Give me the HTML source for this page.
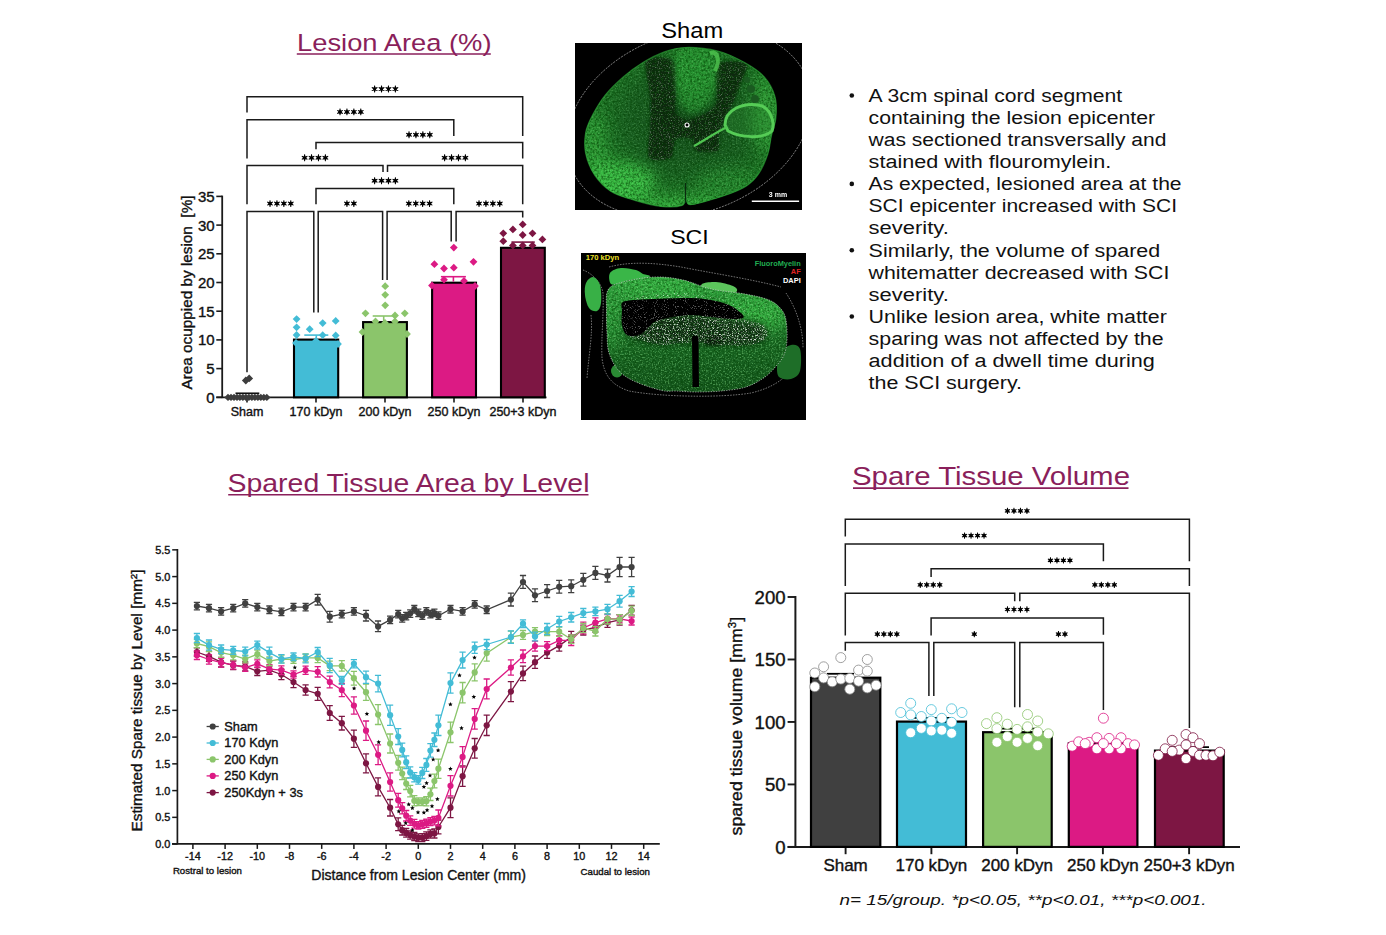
<!DOCTYPE html>
<html><head><meta charset="utf-8"><title>Spinal cord lesion analysis</title>
<style>
html,body{margin:0;padding:0;background:#fff;}
body{width:1386px;height:935px;overflow:hidden;}
svg{display:block;font-family:"Liberation Sans", sans-serif;}
text.c{stroke:#111;stroke-width:0.38px;}
</style></head><body>
<svg width="1386" height="935" viewBox="0 0 1386 935">
<rect width="1386" height="935" fill="#fff"/>
<text x="297.0" y="51.0" font-size="23.7" text-anchor="start" fill="#8a1f5b" font-weight="normal" font-style="normal" textLength="194.5" lengthAdjust="spacingAndGlyphs" >Lesion Area (%)</text>
<line x1="296.8" y1="54.0" x2="490.8" y2="54.0" stroke="#8a1f5b" stroke-width="1.6" />
<text x="227.5" y="491.5" font-size="26.4" text-anchor="start" fill="#8a1f5b" font-weight="normal" font-style="normal" textLength="362.0" lengthAdjust="spacingAndGlyphs" >Spared Tissue Area by Level</text>
<line x1="228.2" y1="494.7" x2="588.5" y2="494.7" stroke="#8a1f5b" stroke-width="1.6" />
<text x="852.0" y="485.2" font-size="26.4" text-anchor="start" fill="#8a1f5b" font-weight="normal" font-style="normal" textLength="278.0" lengthAdjust="spacingAndGlyphs" >Spare Tissue Volume</text>
<line x1="853.0" y1="488.1" x2="1128.5" y2="488.1" stroke="#8a1f5b" stroke-width="1.6" />
<text x="661.2" y="38" font-size="21.5" text-anchor="start" fill="#000" font-weight="normal" font-style="normal" textLength="62.0" lengthAdjust="spacingAndGlyphs" >Sham</text>
<text x="670.2" y="243.8" font-size="20.5" text-anchor="start" fill="#000" font-weight="normal" font-style="normal" textLength="38.5" lengthAdjust="spacingAndGlyphs" >SCI</text>
<circle cx="851.8" cy="95.5" r="2.3" fill="#111"/>
<text x="868.6" y="101.8" font-size="18.8" text-anchor="start" fill="#111" font-weight="normal" font-style="normal" textLength="253.6" lengthAdjust="spacingAndGlyphs" >A 3cm spinal cord segment</text>
<text x="868.6" y="123.9" font-size="18.8" text-anchor="start" fill="#111" font-weight="normal" font-style="normal" textLength="286.4" lengthAdjust="spacingAndGlyphs" >containing the lesion epicenter</text>
<text x="868.6" y="146.0" font-size="18.8" text-anchor="start" fill="#111" font-weight="normal" font-style="normal" textLength="297.8" lengthAdjust="spacingAndGlyphs" >was sectioned transversally and</text>
<text x="868.6" y="168.1" font-size="18.8" text-anchor="start" fill="#111" font-weight="normal" font-style="normal" textLength="242.6" lengthAdjust="spacingAndGlyphs" >stained with flouromylein.</text>
<circle cx="851.8" cy="183.9" r="2.3" fill="#111"/>
<text x="868.6" y="190.2" font-size="18.8" text-anchor="start" fill="#111" font-weight="normal" font-style="normal" textLength="313.0" lengthAdjust="spacingAndGlyphs" >As expected, lesioned area at the</text>
<text x="868.6" y="212.3" font-size="18.8" text-anchor="start" fill="#111" font-weight="normal" font-style="normal" textLength="308.4" lengthAdjust="spacingAndGlyphs" >SCI epicenter increased with SCI</text>
<text x="868.6" y="234.4" font-size="18.8" text-anchor="start" fill="#111" font-weight="normal" font-style="normal" textLength="80.2" lengthAdjust="spacingAndGlyphs" >severity.</text>
<circle cx="851.8" cy="250.2" r="2.3" fill="#111"/>
<text x="868.6" y="256.5" font-size="18.8" text-anchor="start" fill="#111" font-weight="normal" font-style="normal" textLength="291.6" lengthAdjust="spacingAndGlyphs" >Similarly, the volume of spared</text>
<text x="868.6" y="278.6" font-size="18.8" text-anchor="start" fill="#111" font-weight="normal" font-style="normal" textLength="300.8" lengthAdjust="spacingAndGlyphs" >whitematter decreased with SCI</text>
<text x="868.6" y="300.7" font-size="18.8" text-anchor="start" fill="#111" font-weight="normal" font-style="normal" textLength="80.2" lengthAdjust="spacingAndGlyphs" >severity.</text>
<circle cx="851.8" cy="316.5" r="2.3" fill="#111"/>
<text x="868.6" y="322.8" font-size="18.8" text-anchor="start" fill="#111" font-weight="normal" font-style="normal" textLength="298.2" lengthAdjust="spacingAndGlyphs" >Unlike lesion area, white matter</text>
<text x="868.6" y="344.9" font-size="18.8" text-anchor="start" fill="#111" font-weight="normal" font-style="normal" textLength="295.0" lengthAdjust="spacingAndGlyphs" >sparing was not affected by the</text>
<text x="868.6" y="367.0" font-size="18.8" text-anchor="start" fill="#111" font-weight="normal" font-style="normal" textLength="286.2" lengthAdjust="spacingAndGlyphs" >addition of a dwell time during</text>
<text x="868.6" y="389.1" font-size="18.8" text-anchor="start" fill="#111" font-weight="normal" font-style="normal" textLength="153.4" lengthAdjust="spacingAndGlyphs" >the SCI surgery.</text>
<line x1="216.3" y1="397.3" x2="222.2" y2="397.3" stroke="#1a1a1a" stroke-width="1.6" />
<text class="c" x="214.6" y="402.7" font-size="15" text-anchor="end" fill="#111" font-weight="normal" font-style="normal" >0</text>
<line x1="216.3" y1="368.6" x2="222.2" y2="368.6" stroke="#1a1a1a" stroke-width="1.6" />
<text class="c" x="214.6" y="374.0" font-size="15" text-anchor="end" fill="#111" font-weight="normal" font-style="normal" >5</text>
<line x1="216.3" y1="339.9" x2="222.2" y2="339.9" stroke="#1a1a1a" stroke-width="1.6" />
<text class="c" x="214.6" y="345.3" font-size="15" text-anchor="end" fill="#111" font-weight="normal" font-style="normal" >10</text>
<line x1="216.3" y1="311.2" x2="222.2" y2="311.2" stroke="#1a1a1a" stroke-width="1.6" />
<text class="c" x="214.6" y="316.6" font-size="15" text-anchor="end" fill="#111" font-weight="normal" font-style="normal" >15</text>
<line x1="216.3" y1="282.5" x2="222.2" y2="282.5" stroke="#1a1a1a" stroke-width="1.6" />
<text class="c" x="214.6" y="287.9" font-size="15" text-anchor="end" fill="#111" font-weight="normal" font-style="normal" >20</text>
<line x1="216.3" y1="253.8" x2="222.2" y2="253.8" stroke="#1a1a1a" stroke-width="1.6" />
<text class="c" x="214.6" y="259.2" font-size="15" text-anchor="end" fill="#111" font-weight="normal" font-style="normal" >25</text>
<line x1="216.3" y1="225.1" x2="222.2" y2="225.1" stroke="#1a1a1a" stroke-width="1.6" />
<text class="c" x="214.6" y="230.5" font-size="15" text-anchor="end" fill="#111" font-weight="normal" font-style="normal" >30</text>
<line x1="216.3" y1="196.4" x2="222.2" y2="196.4" stroke="#1a1a1a" stroke-width="1.6" />
<text class="c" x="214.6" y="201.8" font-size="15" text-anchor="end" fill="#111" font-weight="normal" font-style="normal" >35</text>
<line x1="222.2" y1="195.6" x2="222.2" y2="398.1" stroke="#1a1a1a" stroke-width="1.8" />
<line x1="216.3" y1="397.3" x2="546.5" y2="397.3" stroke="#1a1a1a" stroke-width="1.8" />
<line x1="247.0" y1="397.3" x2="247.0" y2="402.6" stroke="#1a1a1a" stroke-width="1.6" />
<text class="c" x="247.0" y="415.5" font-size="12.5" text-anchor="middle" fill="#111" font-weight="normal" font-style="normal" >Sham</text>
<line x1="316.0" y1="397.3" x2="316.0" y2="402.6" stroke="#1a1a1a" stroke-width="1.6" />
<text class="c" x="316.0" y="415.5" font-size="12.5" text-anchor="middle" fill="#111" font-weight="normal" font-style="normal" >170 kDyn</text>
<line x1="385.0" y1="397.3" x2="385.0" y2="402.6" stroke="#1a1a1a" stroke-width="1.6" />
<text class="c" x="385.0" y="415.5" font-size="12.5" text-anchor="middle" fill="#111" font-weight="normal" font-style="normal" >200 kDyn</text>
<line x1="454.0" y1="397.3" x2="454.0" y2="402.6" stroke="#1a1a1a" stroke-width="1.6" />
<text class="c" x="454.0" y="415.5" font-size="12.5" text-anchor="middle" fill="#111" font-weight="normal" font-style="normal" >250 kDyn</text>
<line x1="523.0" y1="397.3" x2="523.0" y2="402.6" stroke="#1a1a1a" stroke-width="1.6" />
<text class="c" x="523.0" y="415.5" font-size="12.5" text-anchor="middle" fill="#111" font-weight="normal" font-style="normal" >250+3 kDyn</text>
<text class="c" transform="translate(192.3,292.5) rotate(-90)" font-size="15.3" text-anchor="middle" fill="#111" textLength="194" lengthAdjust="spacingAndGlyphs">Area ocuppied by lesion&#160; [%]</text>
<rect x="294.0" y="339.6" width="44.2" height="57.7" fill="#43bcd6" stroke="#000" stroke-width="2.1"/>
<rect x="363.1" y="322.1" width="43.8" height="75.2" fill="#8bc56b" stroke="#000" stroke-width="2.1"/>
<rect x="432.1" y="282.7" width="43.9" height="114.6" fill="#dc1a84" stroke="#000" stroke-width="2.1"/>
<rect x="501.0" y="247.8" width="43.8" height="149.5" fill="#7d1643" stroke="#000" stroke-width="2.1"/>
<path d="M296.6,315.2 L300.5,319.1 L296.6,323.0 L292.7,319.1Z" fill="#43bcd6"/>
<path d="M296.6,323.4 L300.5,327.3 L296.6,331.2 L292.7,327.3Z" fill="#43bcd6"/>
<path d="M296.6,331.1 L300.5,335.0 L296.6,338.9 L292.7,335.0Z" fill="#43bcd6"/>
<path d="M309.7,325.3 L313.6,329.2 L309.7,333.1 L305.8,329.2Z" fill="#43bcd6"/>
<path d="M322.7,319.2 L326.6,323.1 L322.7,327.0 L318.8,323.1Z" fill="#43bcd6"/>
<path d="M322.7,331.3 L326.6,335.2 L322.7,339.1 L318.8,335.2Z" fill="#43bcd6"/>
<path d="M335.7,317.0 L339.6,320.9 L335.7,324.8 L331.8,320.9Z" fill="#43bcd6"/>
<path d="M335.7,331.6 L339.6,335.5 L335.7,339.4 L331.8,335.5Z" fill="#43bcd6"/>
<path d="M296.0,339.1 L299.9,343.0 L296.0,346.9 L292.1,343.0Z" fill="#43bcd6"/>
<path d="M338.0,340.1 L341.9,344.0 L338.0,347.9 L334.1,344.0Z" fill="#43bcd6"/>
<path d="M316.0,337.1 L319.9,341.0 L316.0,344.9 L312.1,341.0Z" fill="#43bcd6"/>
<path d="M385.2,282.3 L389.1,286.2 L385.2,290.1 L381.3,286.2Z" fill="#8bc56b"/>
<path d="M385.2,290.9 L389.1,294.8 L385.2,298.7 L381.3,294.8Z" fill="#8bc56b"/>
<path d="M385.2,301.4 L389.1,305.3 L385.2,309.2 L381.3,305.3Z" fill="#8bc56b"/>
<path d="M365.5,309.4 L369.4,313.3 L365.5,317.2 L361.6,313.3Z" fill="#8bc56b"/>
<path d="M404.8,309.4 L408.7,313.3 L404.8,317.2 L400.9,313.3Z" fill="#8bc56b"/>
<path d="M395.0,311.6 L398.9,315.5 L395.0,319.4 L391.1,315.5Z" fill="#8bc56b"/>
<path d="M375.5,317.6 L379.4,321.5 L375.5,325.4 L371.6,321.5Z" fill="#8bc56b"/>
<path d="M395.0,317.6 L398.9,321.5 L395.0,325.4 L391.1,321.5Z" fill="#8bc56b"/>
<path d="M362.5,328.1 L366.4,332.0 L362.5,335.9 L358.6,332.0Z" fill="#8bc56b"/>
<path d="M407.0,330.1 L410.9,334.0 L407.0,337.9 L403.1,334.0Z" fill="#8bc56b"/>
<path d="M385.0,319.1 L388.9,323.0 L385.0,326.9 L381.1,323.0Z" fill="#8bc56b"/>
<path d="M453.8,243.7 L457.7,247.6 L453.8,251.5 L449.9,247.6Z" fill="#dc1a84"/>
<path d="M434.4,260.3 L438.3,264.2 L434.4,268.1 L430.5,264.2Z" fill="#dc1a84"/>
<path d="M444.0,264.6 L447.9,268.5 L444.0,272.4 L440.1,268.5Z" fill="#dc1a84"/>
<path d="M453.8,263.8 L457.7,267.7 L453.8,271.6 L449.9,267.7Z" fill="#dc1a84"/>
<path d="M473.5,257.9 L477.4,261.8 L473.5,265.7 L469.6,261.8Z" fill="#dc1a84"/>
<path d="M444.0,275.8 L447.9,279.7 L444.0,283.6 L440.1,279.7Z" fill="#dc1a84"/>
<path d="M464.0,277.1 L467.9,281.0 L464.0,284.9 L460.1,281.0Z" fill="#dc1a84"/>
<path d="M432.0,281.6 L435.9,285.5 L432.0,289.4 L428.1,285.5Z" fill="#dc1a84"/>
<path d="M475.0,282.1 L478.9,286.0 L475.0,289.9 L471.1,286.0Z" fill="#dc1a84"/>
<path d="M522.7,220.5 L526.6,224.4 L522.7,228.3 L518.8,224.4Z" fill="#7d1643"/>
<path d="M512.9,225.5 L516.8,229.4 L512.9,233.3 L509.0,229.4Z" fill="#7d1643"/>
<path d="M503.3,229.4 L507.2,233.3 L503.3,237.2 L499.4,233.3Z" fill="#7d1643"/>
<path d="M522.7,231.1 L526.6,235.0 L522.7,238.9 L518.8,235.0Z" fill="#7d1643"/>
<path d="M532.5,229.4 L536.4,233.3 L532.5,237.2 L528.6,233.3Z" fill="#7d1643"/>
<path d="M542.4,235.5 L546.3,239.4 L542.4,243.3 L538.5,239.4Z" fill="#7d1643"/>
<path d="M503.3,237.3 L507.2,241.2 L503.3,245.1 L499.4,241.2Z" fill="#7d1643"/>
<path d="M512.9,241.6 L516.8,245.5 L512.9,249.4 L509.0,245.5Z" fill="#7d1643"/>
<path d="M522.7,241.6 L526.6,245.5 L522.7,249.4 L518.8,245.5Z" fill="#7d1643"/>
<path d="M532.5,241.6 L536.4,245.5 L532.5,249.4 L528.6,245.5Z" fill="#7d1643"/>
<line x1="304.3" y1="335.1" x2="328.3" y2="335.1" stroke="#43bcd6" stroke-width="1.6" />
<line x1="316.3" y1="335.1" x2="316.3" y2="338.6" stroke="#43bcd6" stroke-width="1.6" />
<line x1="372.7" y1="316.0" x2="394.7" y2="316.0" stroke="#8bc56b" stroke-width="1.6" />
<line x1="383.7" y1="316.0" x2="383.7" y2="321.1" stroke="#8bc56b" stroke-width="1.6" />
<line x1="440.9" y1="276.7" x2="465.9" y2="276.7" stroke="#dc1a84" stroke-width="1.6" />
<line x1="453.4" y1="276.7" x2="453.4" y2="281.7" stroke="#dc1a84" stroke-width="1.6" />
<line x1="511.4" y1="242.1" x2="534.8" y2="242.1" stroke="#7d1643" stroke-width="1.6" />
<line x1="523.0999999999999" y1="242.1" x2="523.0999999999999" y2="246.8" stroke="#7d1643" stroke-width="1.6" />
<path d="M228.0,393.7 L231.7,397.4 L228.0,401.1 L224.3,397.4Z" fill="#3d3d3d"/>
<path d="M231.0,393.7 L234.7,397.4 L231.0,401.1 L227.3,397.4Z" fill="#3d3d3d"/>
<path d="M234.0,393.7 L237.7,397.4 L234.0,401.1 L230.3,397.4Z" fill="#3d3d3d"/>
<path d="M237.0,393.7 L240.7,397.4 L237.0,401.1 L233.3,397.4Z" fill="#3d3d3d"/>
<path d="M239.9,393.7 L243.6,397.4 L239.9,401.1 L236.2,397.4Z" fill="#3d3d3d"/>
<path d="M242.9,393.7 L246.6,397.4 L242.9,401.1 L239.2,397.4Z" fill="#3d3d3d"/>
<path d="M245.9,393.7 L249.6,397.4 L245.9,401.1 L242.2,397.4Z" fill="#3d3d3d"/>
<path d="M248.9,393.7 L252.6,397.4 L248.9,401.1 L245.2,397.4Z" fill="#3d3d3d"/>
<path d="M251.9,393.7 L255.6,397.4 L251.9,401.1 L248.2,397.4Z" fill="#3d3d3d"/>
<path d="M254.9,393.7 L258.6,397.4 L254.9,401.1 L251.2,397.4Z" fill="#3d3d3d"/>
<path d="M257.9,393.7 L261.6,397.4 L257.9,401.1 L254.2,397.4Z" fill="#3d3d3d"/>
<path d="M260.8,393.7 L264.5,397.4 L260.8,401.1 L257.1,397.4Z" fill="#3d3d3d"/>
<path d="M263.8,393.7 L267.5,397.4 L263.8,401.1 L260.1,397.4Z" fill="#3d3d3d"/>
<path d="M266.8,393.7 L270.5,397.4 L266.8,401.1 L263.1,397.4Z" fill="#3d3d3d"/>
<path d="M245.8,376.6 L249.7,380.5 L245.8,384.4 L241.9,380.5Z" fill="#3d3d3d"/>
<path d="M249.2,374.5 L253.1,378.4 L249.2,382.3 L245.3,378.4Z" fill="#3d3d3d"/>
<line x1="235.5" y1="393.3" x2="259.3" y2="393.3" stroke="#111" stroke-width="1.7" />
<path d="M247.0,112.6 V96.8 H522.7 V136.1" stroke="#1a1a1a" stroke-width="1.5" fill="none" stroke-linejoin="miter" stroke-linecap="butt"/>
<path d="M375.63,89.00L375.03,85.55L374.21,85.55L373.61,89.00ZM373.61,89.00L374.21,92.45L375.03,92.45L375.63,89.00ZM375.13,89.88L377.66,87.72L377.25,87.00L374.11,88.12ZM375.13,88.12L371.99,87.00L371.58,87.72L374.11,89.88ZM374.11,88.12L371.58,90.28L371.99,91.00L375.13,89.88ZM374.11,89.88L377.25,91.00L377.66,90.28L375.13,88.12ZM382.55,89.00L381.95,85.55L381.13,85.55L380.53,89.00ZM380.53,89.00L381.13,92.45L381.95,92.45L382.55,89.00ZM382.05,89.88L384.58,87.72L384.17,87.00L381.03,88.12ZM382.05,88.12L378.91,87.00L378.50,87.72L381.03,89.88ZM381.03,88.12L378.50,90.28L378.91,91.00L382.05,89.88ZM381.03,89.88L384.17,91.00L384.58,90.28L382.05,88.12ZM389.47,89.00L388.87,85.55L388.05,85.55L387.45,89.00ZM387.45,89.00L388.05,92.45L388.87,92.45L389.47,89.00ZM388.97,89.88L391.50,87.72L391.09,87.00L387.95,88.12ZM388.97,88.12L385.83,87.00L385.42,87.72L387.95,89.88ZM387.95,88.12L385.42,90.28L385.83,91.00L388.97,89.88ZM387.95,89.88L391.09,91.00L391.50,90.28L388.97,88.12ZM396.39,89.00L395.79,85.55L394.97,85.55L394.37,89.00ZM394.37,89.00L394.97,92.45L395.79,92.45L396.39,89.00ZM395.89,89.88L398.42,87.72L398.01,87.00L394.87,88.12ZM395.89,88.12L392.75,87.00L392.34,87.72L394.87,89.88ZM394.87,88.12L392.34,90.28L392.75,91.00L395.89,89.88ZM394.87,89.88L398.01,91.00L398.42,90.28L395.89,88.12Z" fill="#000"/>
<g fill="#000"><circle cx="374.62" cy="89.00" r="1.58"/><circle cx="381.54" cy="89.00" r="1.58"/><circle cx="388.46" cy="89.00" r="1.58"/><circle cx="395.38" cy="89.00" r="1.58"/></g>
<path d="M247.0,158.6 V119.7 H453.8 V136.1" stroke="#1a1a1a" stroke-width="1.5" fill="none" stroke-linejoin="miter" stroke-linecap="butt"/>
<path d="M341.03,111.90L340.43,108.45L339.61,108.45L339.01,111.90ZM339.01,111.90L339.61,115.35L340.43,115.35L341.03,111.90ZM340.53,112.78L343.06,110.62L342.65,109.90L339.51,111.02ZM340.53,111.02L337.39,109.90L336.98,110.62L339.51,112.78ZM339.51,111.02L336.98,113.18L337.39,113.90L340.53,112.78ZM339.51,112.78L342.65,113.90L343.06,113.18L340.53,111.02ZM347.95,111.90L347.35,108.45L346.53,108.45L345.93,111.90ZM345.93,111.90L346.53,115.35L347.35,115.35L347.95,111.90ZM347.45,112.78L349.98,110.62L349.57,109.90L346.43,111.02ZM347.45,111.02L344.31,109.90L343.90,110.62L346.43,112.78ZM346.43,111.02L343.90,113.18L344.31,113.90L347.45,112.78ZM346.43,112.78L349.57,113.90L349.98,113.18L347.45,111.02ZM354.87,111.90L354.27,108.45L353.45,108.45L352.85,111.90ZM352.85,111.90L353.45,115.35L354.27,115.35L354.87,111.90ZM354.37,112.78L356.90,110.62L356.49,109.90L353.35,111.02ZM354.37,111.02L351.23,109.90L350.82,110.62L353.35,112.78ZM353.35,111.02L350.82,113.18L351.23,113.90L354.37,112.78ZM353.35,112.78L356.49,113.90L356.90,113.18L354.37,111.02ZM361.79,111.90L361.19,108.45L360.37,108.45L359.77,111.90ZM359.77,111.90L360.37,115.35L361.19,115.35L361.79,111.90ZM361.29,112.78L363.82,110.62L363.41,109.90L360.27,111.02ZM361.29,111.02L358.15,109.90L357.74,110.62L360.27,112.78ZM360.27,111.02L357.74,113.18L358.15,113.90L361.29,112.78ZM360.27,112.78L363.41,113.90L363.82,113.18L361.29,111.02Z" fill="#000"/>
<g fill="#000"><circle cx="340.02" cy="111.90" r="1.58"/><circle cx="346.94" cy="111.90" r="1.58"/><circle cx="353.86" cy="111.90" r="1.58"/><circle cx="360.78" cy="111.90" r="1.58"/></g>
<path d="M316.0,149.2 V142.6 H522.7 V158.6" stroke="#1a1a1a" stroke-width="1.5" fill="none" stroke-linejoin="miter" stroke-linecap="butt"/>
<path d="M410.03,134.80L409.43,131.35L408.61,131.35L408.01,134.80ZM408.01,134.80L408.61,138.25L409.43,138.25L410.03,134.80ZM409.53,135.68L412.06,133.52L411.65,132.80L408.51,133.92ZM409.53,133.92L406.39,132.80L405.98,133.52L408.51,135.68ZM408.51,133.92L405.98,136.08L406.39,136.80L409.53,135.68ZM408.51,135.68L411.65,136.80L412.06,136.08L409.53,133.92ZM416.95,134.80L416.35,131.35L415.53,131.35L414.93,134.80ZM414.93,134.80L415.53,138.25L416.35,138.25L416.95,134.80ZM416.45,135.68L418.98,133.52L418.57,132.80L415.43,133.92ZM416.45,133.92L413.31,132.80L412.90,133.52L415.43,135.68ZM415.43,133.92L412.90,136.08L413.31,136.80L416.45,135.68ZM415.43,135.68L418.57,136.80L418.98,136.08L416.45,133.92ZM423.87,134.80L423.27,131.35L422.45,131.35L421.85,134.80ZM421.85,134.80L422.45,138.25L423.27,138.25L423.87,134.80ZM423.37,135.68L425.90,133.52L425.49,132.80L422.35,133.92ZM423.37,133.92L420.23,132.80L419.82,133.52L422.35,135.68ZM422.35,133.92L419.82,136.08L420.23,136.80L423.37,135.68ZM422.35,135.68L425.49,136.80L425.90,136.08L423.37,133.92ZM430.79,134.80L430.19,131.35L429.37,131.35L428.77,134.80ZM428.77,134.80L429.37,138.25L430.19,138.25L430.79,134.80ZM430.29,135.68L432.82,133.52L432.41,132.80L429.27,133.92ZM430.29,133.92L427.15,132.80L426.74,133.52L429.27,135.68ZM429.27,133.92L426.74,136.08L427.15,136.80L430.29,135.68ZM429.27,135.68L432.41,136.80L432.82,136.08L430.29,133.92Z" fill="#000"/>
<g fill="#000"><circle cx="409.02" cy="134.80" r="1.58"/><circle cx="415.94" cy="134.80" r="1.58"/><circle cx="422.86" cy="134.80" r="1.58"/><circle cx="429.78" cy="134.80" r="1.58"/></g>
<path d="M247.0,204.3 V165.6 H383.0 V172.0" stroke="#1a1a1a" stroke-width="1.5" fill="none" stroke-linejoin="miter" stroke-linecap="butt"/>
<path d="M305.63,157.80L305.03,154.35L304.21,154.35L303.61,157.80ZM303.61,157.80L304.21,161.25L305.03,161.25L305.63,157.80ZM305.13,158.68L307.66,156.52L307.25,155.80L304.11,156.92ZM305.13,156.92L301.99,155.80L301.58,156.52L304.11,158.68ZM304.11,156.92L301.58,159.08L301.99,159.80L305.13,158.68ZM304.11,158.68L307.25,159.80L307.66,159.08L305.13,156.92ZM312.55,157.80L311.95,154.35L311.13,154.35L310.53,157.80ZM310.53,157.80L311.13,161.25L311.95,161.25L312.55,157.80ZM312.05,158.68L314.58,156.52L314.17,155.80L311.03,156.92ZM312.05,156.92L308.91,155.80L308.50,156.52L311.03,158.68ZM311.03,156.92L308.50,159.08L308.91,159.80L312.05,158.68ZM311.03,158.68L314.17,159.80L314.58,159.08L312.05,156.92ZM319.47,157.80L318.87,154.35L318.05,154.35L317.45,157.80ZM317.45,157.80L318.05,161.25L318.87,161.25L319.47,157.80ZM318.97,158.68L321.50,156.52L321.09,155.80L317.95,156.92ZM318.97,156.92L315.83,155.80L315.42,156.52L317.95,158.68ZM317.95,156.92L315.42,159.08L315.83,159.80L318.97,158.68ZM317.95,158.68L321.09,159.80L321.50,159.08L318.97,156.92ZM326.39,157.80L325.79,154.35L324.97,154.35L324.37,157.80ZM324.37,157.80L324.97,161.25L325.79,161.25L326.39,157.80ZM325.89,158.68L328.42,156.52L328.01,155.80L324.87,156.92ZM325.89,156.92L322.75,155.80L322.34,156.52L324.87,158.68ZM324.87,156.92L322.34,159.08L322.75,159.80L325.89,158.68ZM324.87,158.68L328.01,159.80L328.42,159.08L325.89,156.92Z" fill="#000"/>
<g fill="#000"><circle cx="304.62" cy="157.80" r="1.58"/><circle cx="311.54" cy="157.80" r="1.58"/><circle cx="318.46" cy="157.80" r="1.58"/><circle cx="325.38" cy="157.80" r="1.58"/></g>
<path d="M387.5,172.0 V165.6 H522.7 V204.3" stroke="#1a1a1a" stroke-width="1.5" fill="none" stroke-linejoin="miter" stroke-linecap="butt"/>
<path d="M445.63,157.80L445.03,154.35L444.21,154.35L443.61,157.80ZM443.61,157.80L444.21,161.25L445.03,161.25L445.63,157.80ZM445.13,158.68L447.66,156.52L447.25,155.80L444.11,156.92ZM445.13,156.92L441.99,155.80L441.58,156.52L444.11,158.68ZM444.11,156.92L441.58,159.08L441.99,159.80L445.13,158.68ZM444.11,158.68L447.25,159.80L447.66,159.08L445.13,156.92ZM452.55,157.80L451.95,154.35L451.13,154.35L450.53,157.80ZM450.53,157.80L451.13,161.25L451.95,161.25L452.55,157.80ZM452.05,158.68L454.58,156.52L454.17,155.80L451.03,156.92ZM452.05,156.92L448.91,155.80L448.50,156.52L451.03,158.68ZM451.03,156.92L448.50,159.08L448.91,159.80L452.05,158.68ZM451.03,158.68L454.17,159.80L454.58,159.08L452.05,156.92ZM459.47,157.80L458.87,154.35L458.05,154.35L457.45,157.80ZM457.45,157.80L458.05,161.25L458.87,161.25L459.47,157.80ZM458.97,158.68L461.50,156.52L461.09,155.80L457.95,156.92ZM458.97,156.92L455.83,155.80L455.42,156.52L457.95,158.68ZM457.95,156.92L455.42,159.08L455.83,159.80L458.97,158.68ZM457.95,158.68L461.09,159.80L461.50,159.08L458.97,156.92ZM466.39,157.80L465.79,154.35L464.97,154.35L464.37,157.80ZM464.37,157.80L464.97,161.25L465.79,161.25L466.39,157.80ZM465.89,158.68L468.42,156.52L468.01,155.80L464.87,156.92ZM465.89,156.92L462.75,155.80L462.34,156.52L464.87,158.68ZM464.87,156.92L462.34,159.08L462.75,159.80L465.89,158.68ZM464.87,158.68L468.01,159.80L468.42,159.08L465.89,156.92Z" fill="#000"/>
<g fill="#000"><circle cx="444.62" cy="157.80" r="1.58"/><circle cx="451.54" cy="157.80" r="1.58"/><circle cx="458.46" cy="157.80" r="1.58"/><circle cx="465.38" cy="157.80" r="1.58"/></g>
<path d="M316.0,204.3 V188.5 H453.8 V204.3" stroke="#1a1a1a" stroke-width="1.5" fill="none" stroke-linejoin="miter" stroke-linecap="butt"/>
<path d="M375.63,180.70L375.03,177.25L374.21,177.25L373.61,180.70ZM373.61,180.70L374.21,184.15L375.03,184.15L375.63,180.70ZM375.13,181.58L377.66,179.42L377.25,178.70L374.11,179.82ZM375.13,179.82L371.99,178.70L371.58,179.42L374.11,181.58ZM374.11,179.82L371.58,181.98L371.99,182.70L375.13,181.58ZM374.11,181.58L377.25,182.70L377.66,181.98L375.13,179.82ZM382.55,180.70L381.95,177.25L381.13,177.25L380.53,180.70ZM380.53,180.70L381.13,184.15L381.95,184.15L382.55,180.70ZM382.05,181.58L384.58,179.42L384.17,178.70L381.03,179.82ZM382.05,179.82L378.91,178.70L378.50,179.42L381.03,181.58ZM381.03,179.82L378.50,181.98L378.91,182.70L382.05,181.58ZM381.03,181.58L384.17,182.70L384.58,181.98L382.05,179.82ZM389.47,180.70L388.87,177.25L388.05,177.25L387.45,180.70ZM387.45,180.70L388.05,184.15L388.87,184.15L389.47,180.70ZM388.97,181.58L391.50,179.42L391.09,178.70L387.95,179.82ZM388.97,179.82L385.83,178.70L385.42,179.42L387.95,181.58ZM387.95,179.82L385.42,181.98L385.83,182.70L388.97,181.58ZM387.95,181.58L391.09,182.70L391.50,181.98L388.97,179.82ZM396.39,180.70L395.79,177.25L394.97,177.25L394.37,180.70ZM394.37,180.70L394.97,184.15L395.79,184.15L396.39,180.70ZM395.89,181.58L398.42,179.42L398.01,178.70L394.87,179.82ZM395.89,179.82L392.75,178.70L392.34,179.42L394.87,181.58ZM394.87,179.82L392.34,181.98L392.75,182.70L395.89,181.58ZM394.87,181.58L398.01,182.70L398.42,181.98L395.89,179.82Z" fill="#000"/>
<g fill="#000"><circle cx="374.62" cy="180.70" r="1.58"/><circle cx="381.54" cy="180.70" r="1.58"/><circle cx="388.46" cy="180.70" r="1.58"/><circle cx="395.38" cy="180.70" r="1.58"/></g>
<path d="M247.0,372.2 V211.4 H313.8 V312.5" stroke="#1a1a1a" stroke-width="1.5" fill="none" stroke-linejoin="miter" stroke-linecap="butt"/>
<path d="M271.03,203.60L270.43,200.15L269.61,200.15L269.01,203.60ZM269.01,203.60L269.61,207.05L270.43,207.05L271.03,203.60ZM270.53,204.48L273.06,202.32L272.65,201.60L269.51,202.72ZM270.53,202.72L267.39,201.60L266.98,202.32L269.51,204.48ZM269.51,202.72L266.98,204.88L267.39,205.60L270.53,204.48ZM269.51,204.48L272.65,205.60L273.06,204.88L270.53,202.72ZM277.95,203.60L277.35,200.15L276.53,200.15L275.93,203.60ZM275.93,203.60L276.53,207.05L277.35,207.05L277.95,203.60ZM277.45,204.48L279.98,202.32L279.57,201.60L276.43,202.72ZM277.45,202.72L274.31,201.60L273.90,202.32L276.43,204.48ZM276.43,202.72L273.90,204.88L274.31,205.60L277.45,204.48ZM276.43,204.48L279.57,205.60L279.98,204.88L277.45,202.72ZM284.87,203.60L284.27,200.15L283.45,200.15L282.85,203.60ZM282.85,203.60L283.45,207.05L284.27,207.05L284.87,203.60ZM284.37,204.48L286.90,202.32L286.49,201.60L283.35,202.72ZM284.37,202.72L281.23,201.60L280.82,202.32L283.35,204.48ZM283.35,202.72L280.82,204.88L281.23,205.60L284.37,204.48ZM283.35,204.48L286.49,205.60L286.90,204.88L284.37,202.72ZM291.79,203.60L291.19,200.15L290.37,200.15L289.77,203.60ZM289.77,203.60L290.37,207.05L291.19,207.05L291.79,203.60ZM291.29,204.48L293.82,202.32L293.41,201.60L290.27,202.72ZM291.29,202.72L288.15,201.60L287.74,202.32L290.27,204.48ZM290.27,202.72L287.74,204.88L288.15,205.60L291.29,204.48ZM290.27,204.48L293.41,205.60L293.82,204.88L291.29,202.72Z" fill="#000"/>
<g fill="#000"><circle cx="270.02" cy="203.60" r="1.58"/><circle cx="276.94" cy="203.60" r="1.58"/><circle cx="283.86" cy="203.60" r="1.58"/><circle cx="290.78" cy="203.60" r="1.58"/></g>
<path d="M318.2,312.5 V211.4 H382.6 V280.0" stroke="#1a1a1a" stroke-width="1.5" fill="none" stroke-linejoin="miter" stroke-linecap="butt"/>
<path d="M347.95,203.60L347.35,200.15L346.53,200.15L345.93,203.60ZM345.93,203.60L346.53,207.05L347.35,207.05L347.95,203.60ZM347.45,204.48L349.98,202.32L349.57,201.60L346.43,202.72ZM347.45,202.72L344.31,201.60L343.90,202.32L346.43,204.48ZM346.43,202.72L343.90,204.88L344.31,205.60L347.45,204.48ZM346.43,204.48L349.57,205.60L349.98,204.88L347.45,202.72ZM354.87,203.60L354.27,200.15L353.45,200.15L352.85,203.60ZM352.85,203.60L353.45,207.05L354.27,207.05L354.87,203.60ZM354.37,204.48L356.90,202.32L356.49,201.60L353.35,202.72ZM354.37,202.72L351.23,201.60L350.82,202.32L353.35,204.48ZM353.35,202.72L350.82,204.88L351.23,205.60L354.37,204.48ZM353.35,204.48L356.49,205.60L356.90,204.88L354.37,202.72Z" fill="#000"/>
<g fill="#000"><circle cx="346.94" cy="203.60" r="1.58"/><circle cx="353.86" cy="203.60" r="1.58"/></g>
<path d="M387.1,280.0 V211.4 H451.2 V241.5" stroke="#1a1a1a" stroke-width="1.5" fill="none" stroke-linejoin="miter" stroke-linecap="butt"/>
<path d="M409.83,203.60L409.23,200.15L408.41,200.15L407.81,203.60ZM407.81,203.60L408.41,207.05L409.23,207.05L409.83,203.60ZM409.33,204.48L411.86,202.32L411.45,201.60L408.31,202.72ZM409.33,202.72L406.19,201.60L405.78,202.32L408.31,204.48ZM408.31,202.72L405.78,204.88L406.19,205.60L409.33,204.48ZM408.31,204.48L411.45,205.60L411.86,204.88L409.33,202.72ZM416.75,203.60L416.15,200.15L415.33,200.15L414.73,203.60ZM414.73,203.60L415.33,207.05L416.15,207.05L416.75,203.60ZM416.25,204.48L418.78,202.32L418.37,201.60L415.23,202.72ZM416.25,202.72L413.11,201.60L412.70,202.32L415.23,204.48ZM415.23,202.72L412.70,204.88L413.11,205.60L416.25,204.48ZM415.23,204.48L418.37,205.60L418.78,204.88L416.25,202.72ZM423.67,203.60L423.07,200.15L422.25,200.15L421.65,203.60ZM421.65,203.60L422.25,207.05L423.07,207.05L423.67,203.60ZM423.17,204.48L425.70,202.32L425.29,201.60L422.15,202.72ZM423.17,202.72L420.03,201.60L419.62,202.32L422.15,204.48ZM422.15,202.72L419.62,204.88L420.03,205.60L423.17,204.48ZM422.15,204.48L425.29,205.60L425.70,204.88L423.17,202.72ZM430.59,203.60L429.99,200.15L429.17,200.15L428.57,203.60ZM428.57,203.60L429.17,207.05L429.99,207.05L430.59,203.60ZM430.09,204.48L432.62,202.32L432.21,201.60L429.07,202.72ZM430.09,202.72L426.95,201.60L426.54,202.32L429.07,204.48ZM429.07,202.72L426.54,204.88L426.95,205.60L430.09,204.48ZM429.07,204.48L432.21,205.60L432.62,204.88L430.09,202.72Z" fill="#000"/>
<g fill="#000"><circle cx="408.82" cy="203.60" r="1.58"/><circle cx="415.74" cy="203.60" r="1.58"/><circle cx="422.66" cy="203.60" r="1.58"/><circle cx="429.58" cy="203.60" r="1.58"/></g>
<path d="M456.1,241.5 V211.4 H522.7 V217.6" stroke="#1a1a1a" stroke-width="1.5" fill="none" stroke-linejoin="miter" stroke-linecap="butt"/>
<path d="M480.03,203.60L479.43,200.15L478.61,200.15L478.01,203.60ZM478.01,203.60L478.61,207.05L479.43,207.05L480.03,203.60ZM479.53,204.48L482.06,202.32L481.65,201.60L478.51,202.72ZM479.53,202.72L476.39,201.60L475.98,202.32L478.51,204.48ZM478.51,202.72L475.98,204.88L476.39,205.60L479.53,204.48ZM478.51,204.48L481.65,205.60L482.06,204.88L479.53,202.72ZM486.95,203.60L486.35,200.15L485.53,200.15L484.93,203.60ZM484.93,203.60L485.53,207.05L486.35,207.05L486.95,203.60ZM486.45,204.48L488.98,202.32L488.57,201.60L485.43,202.72ZM486.45,202.72L483.31,201.60L482.90,202.32L485.43,204.48ZM485.43,202.72L482.90,204.88L483.31,205.60L486.45,204.48ZM485.43,204.48L488.57,205.60L488.98,204.88L486.45,202.72ZM493.87,203.60L493.27,200.15L492.45,200.15L491.85,203.60ZM491.85,203.60L492.45,207.05L493.27,207.05L493.87,203.60ZM493.37,204.48L495.90,202.32L495.49,201.60L492.35,202.72ZM493.37,202.72L490.23,201.60L489.82,202.32L492.35,204.48ZM492.35,202.72L489.82,204.88L490.23,205.60L493.37,204.48ZM492.35,204.48L495.49,205.60L495.90,204.88L493.37,202.72ZM500.79,203.60L500.19,200.15L499.37,200.15L498.77,203.60ZM498.77,203.60L499.37,207.05L500.19,207.05L500.79,203.60ZM500.29,204.48L502.82,202.32L502.41,201.60L499.27,202.72ZM500.29,202.72L497.15,201.60L496.74,202.32L499.27,204.48ZM499.27,202.72L496.74,204.88L497.15,205.60L500.29,204.48ZM499.27,204.48L502.41,205.60L502.82,204.88L500.29,202.72Z" fill="#000"/>
<g fill="#000"><circle cx="479.02" cy="203.60" r="1.58"/><circle cx="485.94" cy="203.60" r="1.58"/><circle cx="492.86" cy="203.60" r="1.58"/><circle cx="499.78" cy="203.60" r="1.58"/></g>
<line x1="177.4" y1="549.0" x2="177.4" y2="844.3" stroke="#1a1a1a" stroke-width="1.7" />
<line x1="172.0" y1="843.8" x2="659.8" y2="843.8" stroke="#1a1a1a" stroke-width="1.7" />
<line x1="172.2" y1="844.1" x2="177.4" y2="844.1" stroke="#1a1a1a" stroke-width="1.5" />
<text class="c" x="170.3" y="848.0" font-size="10.9" text-anchor="end" fill="#111" font-weight="normal" font-style="normal" >0.0</text>
<line x1="172.2" y1="817.35" x2="177.4" y2="817.35" stroke="#1a1a1a" stroke-width="1.5" />
<text class="c" x="170.3" y="821.2" font-size="10.9" text-anchor="end" fill="#111" font-weight="normal" font-style="normal" >0.5</text>
<line x1="172.2" y1="790.6" x2="177.4" y2="790.6" stroke="#1a1a1a" stroke-width="1.5" />
<text class="c" x="170.3" y="794.5" font-size="10.9" text-anchor="end" fill="#111" font-weight="normal" font-style="normal" >1.0</text>
<line x1="172.2" y1="763.85" x2="177.4" y2="763.85" stroke="#1a1a1a" stroke-width="1.5" />
<text class="c" x="170.3" y="767.8" font-size="10.9" text-anchor="end" fill="#111" font-weight="normal" font-style="normal" >1.5</text>
<line x1="172.2" y1="737.1" x2="177.4" y2="737.1" stroke="#1a1a1a" stroke-width="1.5" />
<text class="c" x="170.3" y="741.0" font-size="10.9" text-anchor="end" fill="#111" font-weight="normal" font-style="normal" >2.0</text>
<line x1="172.2" y1="710.35" x2="177.4" y2="710.35" stroke="#1a1a1a" stroke-width="1.5" />
<text class="c" x="170.3" y="714.2" font-size="10.9" text-anchor="end" fill="#111" font-weight="normal" font-style="normal" >2.5</text>
<line x1="172.2" y1="683.6" x2="177.4" y2="683.6" stroke="#1a1a1a" stroke-width="1.5" />
<text class="c" x="170.3" y="687.5" font-size="10.9" text-anchor="end" fill="#111" font-weight="normal" font-style="normal" >3.0</text>
<line x1="172.2" y1="656.85" x2="177.4" y2="656.85" stroke="#1a1a1a" stroke-width="1.5" />
<text class="c" x="170.3" y="660.8" font-size="10.9" text-anchor="end" fill="#111" font-weight="normal" font-style="normal" >3.5</text>
<line x1="172.2" y1="630.1" x2="177.4" y2="630.1" stroke="#1a1a1a" stroke-width="1.5" />
<text class="c" x="170.3" y="634.0" font-size="10.9" text-anchor="end" fill="#111" font-weight="normal" font-style="normal" >4.0</text>
<line x1="172.2" y1="603.35" x2="177.4" y2="603.35" stroke="#1a1a1a" stroke-width="1.5" />
<text class="c" x="170.3" y="607.2" font-size="10.9" text-anchor="end" fill="#111" font-weight="normal" font-style="normal" >4.5</text>
<line x1="172.2" y1="576.6" x2="177.4" y2="576.6" stroke="#1a1a1a" stroke-width="1.5" />
<text class="c" x="170.3" y="580.5" font-size="10.9" text-anchor="end" fill="#111" font-weight="normal" font-style="normal" >5.0</text>
<line x1="172.2" y1="549.85" x2="177.4" y2="549.85" stroke="#1a1a1a" stroke-width="1.5" />
<text class="c" x="170.3" y="553.8" font-size="10.9" text-anchor="end" fill="#111" font-weight="normal" font-style="normal" >5.5</text>
<line x1="192.89999999999998" y1="843.8" x2="192.89999999999998" y2="848.9" stroke="#1a1a1a" stroke-width="1.5" />
<text class="c" x="192.9" y="860.4" font-size="10.8" text-anchor="middle" fill="#111" font-weight="normal" font-style="normal" >-14</text>
<line x1="225.1" y1="843.8" x2="225.1" y2="848.9" stroke="#1a1a1a" stroke-width="1.5" />
<text class="c" x="225.1" y="860.4" font-size="10.8" text-anchor="middle" fill="#111" font-weight="normal" font-style="normal" >-12</text>
<line x1="257.3" y1="843.8" x2="257.3" y2="848.9" stroke="#1a1a1a" stroke-width="1.5" />
<text class="c" x="257.3" y="860.4" font-size="10.8" text-anchor="middle" fill="#111" font-weight="normal" font-style="normal" >-10</text>
<line x1="289.5" y1="843.8" x2="289.5" y2="848.9" stroke="#1a1a1a" stroke-width="1.5" />
<text class="c" x="289.5" y="860.4" font-size="10.8" text-anchor="middle" fill="#111" font-weight="normal" font-style="normal" >-8</text>
<line x1="321.7" y1="843.8" x2="321.7" y2="848.9" stroke="#1a1a1a" stroke-width="1.5" />
<text class="c" x="321.7" y="860.4" font-size="10.8" text-anchor="middle" fill="#111" font-weight="normal" font-style="normal" >-6</text>
<line x1="353.9" y1="843.8" x2="353.9" y2="848.9" stroke="#1a1a1a" stroke-width="1.5" />
<text class="c" x="353.9" y="860.4" font-size="10.8" text-anchor="middle" fill="#111" font-weight="normal" font-style="normal" >-4</text>
<line x1="386.1" y1="843.8" x2="386.1" y2="848.9" stroke="#1a1a1a" stroke-width="1.5" />
<text class="c" x="386.1" y="860.4" font-size="10.8" text-anchor="middle" fill="#111" font-weight="normal" font-style="normal" >-2</text>
<line x1="418.3" y1="843.8" x2="418.3" y2="848.9" stroke="#1a1a1a" stroke-width="1.5" />
<text class="c" x="418.3" y="860.4" font-size="10.8" text-anchor="middle" fill="#111" font-weight="normal" font-style="normal" >0</text>
<line x1="450.5" y1="843.8" x2="450.5" y2="848.9" stroke="#1a1a1a" stroke-width="1.5" />
<text class="c" x="450.5" y="860.4" font-size="10.8" text-anchor="middle" fill="#111" font-weight="normal" font-style="normal" >2</text>
<line x1="482.70000000000005" y1="843.8" x2="482.70000000000005" y2="848.9" stroke="#1a1a1a" stroke-width="1.5" />
<text class="c" x="482.7" y="860.4" font-size="10.8" text-anchor="middle" fill="#111" font-weight="normal" font-style="normal" >4</text>
<line x1="514.9" y1="843.8" x2="514.9" y2="848.9" stroke="#1a1a1a" stroke-width="1.5" />
<text class="c" x="514.9" y="860.4" font-size="10.8" text-anchor="middle" fill="#111" font-weight="normal" font-style="normal" >6</text>
<line x1="547.1" y1="843.8" x2="547.1" y2="848.9" stroke="#1a1a1a" stroke-width="1.5" />
<text class="c" x="547.1" y="860.4" font-size="10.8" text-anchor="middle" fill="#111" font-weight="normal" font-style="normal" >8</text>
<line x1="579.3" y1="843.8" x2="579.3" y2="848.9" stroke="#1a1a1a" stroke-width="1.5" />
<text class="c" x="579.3" y="860.4" font-size="10.8" text-anchor="middle" fill="#111" font-weight="normal" font-style="normal" >10</text>
<line x1="611.5" y1="843.8" x2="611.5" y2="848.9" stroke="#1a1a1a" stroke-width="1.5" />
<text class="c" x="611.5" y="860.4" font-size="10.8" text-anchor="middle" fill="#111" font-weight="normal" font-style="normal" >12</text>
<line x1="643.7" y1="843.8" x2="643.7" y2="848.9" stroke="#1a1a1a" stroke-width="1.5" />
<text class="c" x="643.7" y="860.4" font-size="10.8" text-anchor="middle" fill="#111" font-weight="normal" font-style="normal" >14</text>
<text class="c" x="172.9" y="873.5" font-size="9.8" text-anchor="start" fill="#111" font-weight="normal" font-style="normal" textLength="69.1" lengthAdjust="spacingAndGlyphs" >Rostral to lesion</text>
<text class="c" x="580.6" y="875.2" font-size="9.8" text-anchor="start" fill="#111" font-weight="normal" font-style="normal" textLength="69.3" lengthAdjust="spacingAndGlyphs" >Caudal to lesion</text>
<text class="c" x="311.3" y="879.8" font-size="14.8" text-anchor="start" fill="#111" font-weight="normal" font-style="normal" textLength="214.7" lengthAdjust="spacingAndGlyphs" >Distance from Lesion Center (mm)</text>
<text class="c" transform="translate(141.7,831.4) rotate(-90)" font-size="14" fill="#111" textLength="262" lengthAdjust="spacingAndGlyphs">Estimated Spare tissue by Level [mm<tspan font-size="9" dy="-5">2</tspan><tspan dy="5">]</tspan></text>
<polyline points="196.9,606.0 209.0,608.2 221.1,611.4 233.2,608.2 245.2,603.4 257.3,607.1 269.4,609.8 281.4,611.9 293.5,607.1 305.6,607.1 317.7,599.6 329.8,616.7 341.8,614.1 353.9,611.4 366.0,615.7 378.1,626.4 390.1,619.9 398.2,614.1 402.2,618.3 406.2,616.2 410.2,613.5 414.3,609.2 418.3,613.0 422.3,615.7 426.4,611.4 430.4,614.1 434.4,613.0 438.4,615.7 450.5,609.2 462.6,611.4 474.7,604.4 486.7,609.8 510.9,599.6 523.0,582.0 535.0,595.3 547.1,591.0 559.2,586.8 571.2,586.2 583.3,579.8 595.4,572.9 607.5,575.5 619.6,567.0 631.6,567.0" fill="none" stroke="#404040" stroke-width="1.3"/>
<path d="M196.9,602.3V609.8M193.8,602.3h6.2M193.8,609.8h6.2M209.0,604.4V611.9M205.9,604.4h6.2M205.9,611.9h6.2M221.1,607.6V615.1M218.0,607.6h6.2M218.0,615.1h6.2M233.2,604.4V611.9M230.1,604.4h6.2M230.1,611.9h6.2M245.2,599.6V607.1M242.1,599.6h6.2M242.1,607.1h6.2M257.3,603.4V610.8M254.2,603.4h6.2M254.2,610.8h6.2M269.4,606.0V613.5M266.3,606.0h6.2M266.3,613.5h6.2M281.4,608.2V615.7M278.3,608.2h6.2M278.3,615.7h6.2M293.5,603.4V610.8M290.4,603.4h6.2M290.4,610.8h6.2M305.6,603.4V610.8M302.5,603.4h6.2M302.5,610.8h6.2M317.7,594.3V605.0M314.6,594.3h6.2M314.6,605.0h6.2M329.8,611.4V622.1M326.6,611.4h6.2M326.6,622.1h6.2M341.8,610.3V617.8M338.7,610.3h6.2M338.7,617.8h6.2M353.9,607.6V615.1M350.8,607.6h6.2M350.8,615.1h6.2M366.0,610.3V621.0M362.9,610.3h6.2M362.9,621.0h6.2M378.1,621.0V631.7M374.9,621.0h6.2M374.9,631.7h6.2M390.1,616.2V623.7M387.0,616.2h6.2M387.0,623.7h6.2M398.2,610.3V617.8M395.1,610.3h6.2M395.1,617.8h6.2M402.2,614.6V622.1M399.1,614.6h6.2M399.1,622.1h6.2M406.2,612.4V619.9M403.1,612.4h6.2M403.1,619.9h6.2M410.2,609.8V617.3M407.1,609.8h6.2M407.1,617.3h6.2M414.3,605.5V613.0M411.2,605.5h6.2M411.2,613.0h6.2M418.3,609.2V616.7M415.2,609.2h6.2M415.2,616.7h6.2M422.3,611.9V619.4M419.2,611.9h6.2M419.2,619.4h6.2M426.4,607.6V615.1M423.2,607.6h6.2M423.2,615.1h6.2M430.4,610.3V617.8M427.3,610.3h6.2M427.3,617.8h6.2M434.4,609.2V616.7M431.3,609.2h6.2M431.3,616.7h6.2M438.4,611.9V619.4M435.3,611.9h6.2M435.3,619.4h6.2M450.5,605.5V613.0M447.4,605.5h6.2M447.4,613.0h6.2M462.6,607.6V615.1M459.5,607.6h6.2M459.5,615.1h6.2M474.7,600.7V608.2M471.6,600.7h6.2M471.6,608.2h6.2M486.7,606.0V613.5M483.6,606.0h6.2M483.6,613.5h6.2M510.9,593.2V606.0M507.8,593.2h6.2M507.8,606.0h6.2M523.0,575.5V588.4M519.9,575.5h6.2M519.9,588.4h6.2M535.0,588.9V601.7M531.9,588.9h6.2M531.9,601.7h6.2M547.1,584.6V597.5M544.0,584.6h6.2M544.0,597.5h6.2M559.2,580.3V593.2M556.1,580.3h6.2M556.1,593.2h6.2M571.2,579.8V592.6M568.1,579.8h6.2M568.1,592.6h6.2M583.3,573.4V586.2M580.2,573.4h6.2M580.2,586.2h6.2M595.4,566.4V579.3M592.3,566.4h6.2M592.3,579.3h6.2M607.5,569.1V582.0M604.4,569.1h6.2M604.4,582.0h6.2M619.6,557.3V576.6M616.5,557.3h6.2M616.5,576.6h6.2M631.6,557.3V576.6M628.5,557.3h6.2M628.5,576.6h6.2" stroke="#404040" stroke-width="1.3" fill="none"/>
<g fill="#404040"><circle cx="196.9" cy="606.0" r="3.1"/><circle cx="209.0" cy="608.2" r="3.1"/><circle cx="221.1" cy="611.4" r="3.1"/><circle cx="233.2" cy="608.2" r="3.1"/><circle cx="245.2" cy="603.4" r="3.1"/><circle cx="257.3" cy="607.1" r="3.1"/><circle cx="269.4" cy="609.8" r="3.1"/><circle cx="281.4" cy="611.9" r="3.1"/><circle cx="293.5" cy="607.1" r="3.1"/><circle cx="305.6" cy="607.1" r="3.1"/><circle cx="317.7" cy="599.6" r="3.1"/><circle cx="329.8" cy="616.7" r="3.1"/><circle cx="341.8" cy="614.1" r="3.1"/><circle cx="353.9" cy="611.4" r="3.1"/><circle cx="366.0" cy="615.7" r="3.1"/><circle cx="378.1" cy="626.4" r="3.1"/><circle cx="390.1" cy="619.9" r="3.1"/><circle cx="398.2" cy="614.1" r="3.1"/><circle cx="402.2" cy="618.3" r="3.1"/><circle cx="406.2" cy="616.2" r="3.1"/><circle cx="410.2" cy="613.5" r="3.1"/><circle cx="414.3" cy="609.2" r="3.1"/><circle cx="418.3" cy="613.0" r="3.1"/><circle cx="422.3" cy="615.7" r="3.1"/><circle cx="426.4" cy="611.4" r="3.1"/><circle cx="430.4" cy="614.1" r="3.1"/><circle cx="434.4" cy="613.0" r="3.1"/><circle cx="438.4" cy="615.7" r="3.1"/><circle cx="450.5" cy="609.2" r="3.1"/><circle cx="462.6" cy="611.4" r="3.1"/><circle cx="474.7" cy="604.4" r="3.1"/><circle cx="486.7" cy="609.8" r="3.1"/><circle cx="510.9" cy="599.6" r="3.1"/><circle cx="523.0" cy="582.0" r="3.1"/><circle cx="535.0" cy="595.3" r="3.1"/><circle cx="547.1" cy="591.0" r="3.1"/><circle cx="559.2" cy="586.8" r="3.1"/><circle cx="571.2" cy="586.2" r="3.1"/><circle cx="583.3" cy="579.8" r="3.1"/><circle cx="595.4" cy="572.9" r="3.1"/><circle cx="607.5" cy="575.5" r="3.1"/><circle cx="619.6" cy="567.0" r="3.1"/><circle cx="631.6" cy="567.0" r="3.1"/></g>
<polyline points="196.9,652.0 209.0,656.3 221.1,662.2 233.2,665.4 245.2,666.5 257.3,671.3 269.4,670.2 281.4,674.5 293.5,682.0 305.6,690.0 317.7,693.8 329.8,713.0 341.8,723.2 353.9,738.7 366.0,763.3 378.1,786.9 390.1,807.7 398.2,824.3 402.2,830.2 406.2,832.9 410.2,835.0 414.3,836.6 418.3,837.7 422.3,837.7 426.4,836.1 430.4,833.9 434.4,833.4 438.4,827.0 450.5,807.7 462.6,776.2 474.7,748.3 486.7,725.3 510.9,691.6 523.0,673.4 535.0,662.2 547.1,652.6 559.2,645.6 571.2,637.1 583.3,630.1 595.4,627.4 607.5,622.6 619.6,619.9 631.6,610.3" fill="none" stroke="#7d1643" stroke-width="1.3"/>
<path d="M196.9,647.8V656.3M193.8,647.8h6.2M193.8,656.3h6.2M209.0,651.4V661.3M205.9,651.4h6.2M205.9,661.3h6.2M221.1,657.4V667.0M218.0,657.4h6.2M218.0,667.0h6.2M233.2,661.2V669.7M230.1,661.2h6.2M230.1,669.7h6.2M245.2,662.0V670.9M242.1,662.0h6.2M242.1,670.9h6.2M257.3,667.1V675.5M254.2,667.1h6.2M254.2,675.5h6.2M269.4,666.1V674.4M266.3,666.1h6.2M266.3,674.4h6.2M281.4,669.3V679.7M278.3,669.3h6.2M278.3,679.7h6.2M293.5,676.4V687.6M290.4,676.4h6.2M290.4,687.6h6.2M305.6,684.9V695.2M302.5,684.9h6.2M302.5,695.2h6.2M317.7,687.3V700.3M314.6,687.3h6.2M314.6,700.3h6.2M329.8,705.7V720.3M326.6,705.7h6.2M326.6,720.3h6.2M341.8,716.4V730.0M338.7,716.4h6.2M338.7,730.0h6.2M353.9,730.1V747.3M350.8,730.1h6.2M350.8,747.3h6.2M366.0,753.8V772.8M362.9,753.8h6.2M362.9,772.8h6.2M378.1,777.8V795.9M374.9,777.8h6.2M374.9,795.9h6.2M390.1,799.5V816.0M387.0,799.5h6.2M387.0,816.0h6.2M398.2,817.9V830.7M395.1,817.9h6.2M395.1,830.7h6.2M402.2,825.4V835.0M399.1,825.4h6.2M399.1,835.0h6.2M406.2,828.5V837.2M403.1,828.5h6.2M403.1,837.2h6.2M410.2,830.8V839.2M407.1,830.8h6.2M407.1,839.2h6.2M414.3,832.5V840.7M411.2,832.5h6.2M411.2,840.7h6.2M418.3,833.8V841.6M415.2,833.8h6.2M415.2,841.6h6.2M422.3,833.7V841.6M419.2,833.7h6.2M419.2,841.6h6.2M426.4,831.9V840.3M423.2,831.9h6.2M423.2,840.3h6.2M430.4,829.9V838.0M427.3,829.9h6.2M427.3,838.0h6.2M434.4,828.8V838.0M431.3,828.8h6.2M431.3,838.0h6.2M438.4,820.2V833.8M435.3,820.2h6.2M435.3,833.8h6.2M450.5,797.9V817.6M447.4,797.9h6.2M447.4,817.6h6.2M462.6,766.0V786.3M459.5,766.0h6.2M459.5,786.3h6.2M474.7,738.5V758.2M471.6,738.5h6.2M471.6,758.2h6.2M486.7,715.2V735.5M483.6,715.2h6.2M483.6,735.5h6.2M510.9,681.7V701.6M507.8,681.7h6.2M507.8,701.6h6.2M523.0,666.2V680.7M519.9,666.2h6.2M519.9,680.7h6.2M535.0,656.0V668.4M531.9,656.0h6.2M531.9,668.4h6.2M547.1,646.8V658.3M544.0,646.8h6.2M544.0,658.3h6.2M559.2,640.0V651.2M556.1,640.0h6.2M556.1,651.2h6.2M571.2,631.4V642.7M568.1,631.4h6.2M568.1,642.7h6.2M583.3,625.2V635.0M580.2,625.2h6.2M580.2,635.0h6.2M595.4,622.8V632.1M592.3,622.8h6.2M592.3,632.1h6.2M607.5,618.0V627.3M604.4,618.0h6.2M604.4,627.3h6.2M619.6,614.7V625.2M616.5,614.7h6.2M616.5,625.2h6.2M631.6,605.4V615.2M628.5,605.4h6.2M628.5,615.2h6.2" stroke="#7d1643" stroke-width="1.3" fill="none"/>
<g fill="#7d1643"><circle cx="196.9" cy="652.0" r="3.1"/><circle cx="209.0" cy="656.3" r="3.1"/><circle cx="221.1" cy="662.2" r="3.1"/><circle cx="233.2" cy="665.4" r="3.1"/><circle cx="245.2" cy="666.5" r="3.1"/><circle cx="257.3" cy="671.3" r="3.1"/><circle cx="269.4" cy="670.2" r="3.1"/><circle cx="281.4" cy="674.5" r="3.1"/><circle cx="293.5" cy="682.0" r="3.1"/><circle cx="305.6" cy="690.0" r="3.1"/><circle cx="317.7" cy="693.8" r="3.1"/><circle cx="329.8" cy="713.0" r="3.1"/><circle cx="341.8" cy="723.2" r="3.1"/><circle cx="353.9" cy="738.7" r="3.1"/><circle cx="366.0" cy="763.3" r="3.1"/><circle cx="378.1" cy="786.9" r="3.1"/><circle cx="390.1" cy="807.7" r="3.1"/><circle cx="398.2" cy="824.3" r="3.1"/><circle cx="402.2" cy="830.2" r="3.1"/><circle cx="406.2" cy="832.9" r="3.1"/><circle cx="410.2" cy="835.0" r="3.1"/><circle cx="414.3" cy="836.6" r="3.1"/><circle cx="418.3" cy="837.7" r="3.1"/><circle cx="422.3" cy="837.7" r="3.1"/><circle cx="426.4" cy="836.1" r="3.1"/><circle cx="430.4" cy="833.9" r="3.1"/><circle cx="434.4" cy="833.4" r="3.1"/><circle cx="438.4" cy="827.0" r="3.1"/><circle cx="450.5" cy="807.7" r="3.1"/><circle cx="462.6" cy="776.2" r="3.1"/><circle cx="474.7" cy="748.3" r="3.1"/><circle cx="486.7" cy="725.3" r="3.1"/><circle cx="510.9" cy="691.6" r="3.1"/><circle cx="523.0" cy="673.4" r="3.1"/><circle cx="535.0" cy="662.2" r="3.1"/><circle cx="547.1" cy="652.6" r="3.1"/><circle cx="559.2" cy="645.6" r="3.1"/><circle cx="571.2" cy="637.1" r="3.1"/><circle cx="583.3" cy="630.1" r="3.1"/><circle cx="595.4" cy="627.4" r="3.1"/><circle cx="607.5" cy="622.6" r="3.1"/><circle cx="619.6" cy="619.9" r="3.1"/><circle cx="631.6" cy="610.3" r="3.1"/></g>
<polyline points="196.9,655.2 209.0,659.5 221.1,662.7 233.2,664.9 245.2,667.6 257.3,663.8 269.4,669.2 281.4,670.2 293.5,674.5 305.6,670.2 317.7,671.8 329.8,682.0 341.8,690.0 353.9,705.5 366.0,730.7 378.1,754.8 390.1,782.0 398.2,800.2 402.2,808.3 406.2,815.7 410.2,820.6 414.3,823.8 418.3,825.4 422.3,824.3 426.4,823.2 430.4,821.6 434.4,820.6 438.4,817.9 450.5,785.8 462.6,756.9 474.7,718.9 486.7,689.0 510.9,667.6 523.0,656.3 535.0,646.1 547.1,646.1 559.2,640.3 571.2,640.3 583.3,628.0 595.4,622.6 607.5,618.9 619.6,618.9 631.6,621.0" fill="none" stroke="#dc1a84" stroke-width="1.3"/>
<path d="M196.9,651.0V659.5M193.8,651.0h6.2M193.8,659.5h6.2M209.0,654.9V664.2M205.9,654.9h6.2M205.9,664.2h6.2M221.1,658.3V667.1M218.0,658.3h6.2M218.0,667.1h6.2M233.2,660.6V669.2M230.1,660.6h6.2M230.1,669.2h6.2M245.2,663.7V671.4M242.1,663.7h6.2M242.1,671.4h6.2M257.3,659.9V667.7M254.2,659.9h6.2M254.2,667.7h6.2M269.4,664.6V673.7M266.3,664.6h6.2M266.3,673.7h6.2M281.4,665.8V674.6M278.3,665.8h6.2M278.3,674.6h6.2M293.5,670.8V678.2M290.4,670.8h6.2M290.4,678.2h6.2M305.6,666.2V674.3M302.5,666.2h6.2M302.5,674.3h6.2M317.7,666.7V677.0M314.6,666.7h6.2M314.6,677.0h6.2M329.8,676.1V687.9M326.6,676.1h6.2M326.6,687.9h6.2M341.8,683.5V696.6M338.7,683.5h6.2M338.7,696.6h6.2M353.9,696.9V714.2M350.8,696.9h6.2M350.8,714.2h6.2M366.0,721.0V740.3M362.9,721.0h6.2M362.9,740.3h6.2M378.1,744.8V764.7M374.9,744.8h6.2M374.9,764.7h6.2M390.1,772.8V791.2M387.0,772.8h6.2M387.0,791.2h6.2M398.2,793.3V807.1M395.1,793.3h6.2M395.1,807.1h6.2M402.2,802.6V813.9M399.1,802.6h6.2M399.1,813.9h6.2M406.2,810.5V821.0M403.1,810.5h6.2M403.1,821.0h6.2M410.2,815.9V825.3M407.1,815.9h6.2M407.1,825.3h6.2M414.3,819.4V828.1M411.2,819.4h6.2M411.2,828.1h6.2M418.3,821.6V829.2M415.2,821.6h6.2M415.2,829.2h6.2M422.3,820.3V828.3M419.2,820.3h6.2M419.2,828.3h6.2M426.4,819.2V827.3M423.2,819.2h6.2M423.2,827.3h6.2M430.4,817.6V825.7M427.3,817.6h6.2M427.3,825.7h6.2M434.4,816.4V824.8M431.3,816.4h6.2M431.3,824.8h6.2M438.4,810.0V825.8M435.3,810.0h6.2M435.3,825.8h6.2M450.5,775.6V796.0M447.4,775.6h6.2M447.4,796.0h6.2M462.6,746.7V767.1M459.5,746.7h6.2M459.5,767.1h6.2M474.7,708.7V729.1M471.6,708.7h6.2M471.6,729.1h6.2M486.7,679.0V698.9M483.6,679.0h6.2M483.6,698.9h6.2M510.9,659.9V675.2M507.8,659.9h6.2M507.8,675.2h6.2M523.0,650.0V662.6M519.9,650.0h6.2M519.9,662.6h6.2M535.0,641.2V651.1M531.9,641.2h6.2M531.9,651.1h6.2M547.1,641.7V650.6M544.0,641.7h6.2M544.0,650.6h6.2M559.2,635.8V644.7M556.1,635.8h6.2M556.1,644.7h6.2M571.2,635.0V645.5M568.1,635.0h6.2M568.1,645.5h6.2M583.3,622.1V633.8M580.2,622.1h6.2M580.2,633.8h6.2M595.4,617.8V627.4M592.3,617.8h6.2M592.3,627.4h6.2M607.5,614.7V623.1M604.4,614.7h6.2M604.4,623.1h6.2M619.6,614.9V622.9M616.5,614.9h6.2M616.5,622.9h6.2M631.6,617.0V625.0M628.5,617.0h6.2M628.5,625.0h6.2" stroke="#dc1a84" stroke-width="1.3" fill="none"/>
<g fill="#dc1a84"><circle cx="196.9" cy="655.2" r="3.1"/><circle cx="209.0" cy="659.5" r="3.1"/><circle cx="221.1" cy="662.7" r="3.1"/><circle cx="233.2" cy="664.9" r="3.1"/><circle cx="245.2" cy="667.6" r="3.1"/><circle cx="257.3" cy="663.8" r="3.1"/><circle cx="269.4" cy="669.2" r="3.1"/><circle cx="281.4" cy="670.2" r="3.1"/><circle cx="293.5" cy="674.5" r="3.1"/><circle cx="305.6" cy="670.2" r="3.1"/><circle cx="317.7" cy="671.8" r="3.1"/><circle cx="329.8" cy="682.0" r="3.1"/><circle cx="341.8" cy="690.0" r="3.1"/><circle cx="353.9" cy="705.5" r="3.1"/><circle cx="366.0" cy="730.7" r="3.1"/><circle cx="378.1" cy="754.8" r="3.1"/><circle cx="390.1" cy="782.0" r="3.1"/><circle cx="398.2" cy="800.2" r="3.1"/><circle cx="402.2" cy="808.3" r="3.1"/><circle cx="406.2" cy="815.7" r="3.1"/><circle cx="410.2" cy="820.6" r="3.1"/><circle cx="414.3" cy="823.8" r="3.1"/><circle cx="418.3" cy="825.4" r="3.1"/><circle cx="422.3" cy="824.3" r="3.1"/><circle cx="426.4" cy="823.2" r="3.1"/><circle cx="430.4" cy="821.6" r="3.1"/><circle cx="434.4" cy="820.6" r="3.1"/><circle cx="438.4" cy="817.9" r="3.1"/><circle cx="450.5" cy="785.8" r="3.1"/><circle cx="462.6" cy="756.9" r="3.1"/><circle cx="474.7" cy="718.9" r="3.1"/><circle cx="486.7" cy="689.0" r="3.1"/><circle cx="510.9" cy="667.6" r="3.1"/><circle cx="523.0" cy="656.3" r="3.1"/><circle cx="535.0" cy="646.1" r="3.1"/><circle cx="547.1" cy="646.1" r="3.1"/><circle cx="559.2" cy="640.3" r="3.1"/><circle cx="571.2" cy="640.3" r="3.1"/><circle cx="583.3" cy="628.0" r="3.1"/><circle cx="595.4" cy="622.6" r="3.1"/><circle cx="607.5" cy="618.9" r="3.1"/><circle cx="619.6" cy="618.9" r="3.1"/><circle cx="631.6" cy="621.0" r="3.1"/></g>
<polyline points="196.9,643.5 209.0,646.7 221.1,652.6 233.2,655.2 245.2,659.0 257.3,654.2 269.4,661.1 281.4,659.0 293.5,659.5 305.6,657.9 317.7,657.9 329.8,665.9 341.8,665.9 353.9,678.2 366.0,692.2 378.1,714.6 390.1,743.5 398.2,762.8 402.2,773.5 406.2,783.6 410.2,791.1 414.3,800.8 418.3,801.8 422.3,801.8 426.4,801.3 430.4,794.3 434.4,781.0 438.4,768.7 450.5,732.3 462.6,692.7 474.7,672.4 486.7,653.1 510.9,637.1 523.0,634.9 535.0,631.7 547.1,631.7 559.2,631.7 571.2,639.2 583.3,628.0 595.4,631.2 607.5,618.9 619.6,619.4 631.6,610.8" fill="none" stroke="#8bc56b" stroke-width="1.3"/>
<path d="M196.9,639.3V647.6M193.8,639.3h6.2M193.8,647.6h6.2M209.0,641.8V651.5M205.9,641.8h6.2M205.9,651.5h6.2M221.1,647.8V657.3M218.0,647.8h6.2M218.0,657.3h6.2M233.2,650.7V659.8M230.1,650.7h6.2M230.1,659.8h6.2M245.2,655.1V662.9M242.1,655.1h6.2M242.1,662.9h6.2M257.3,650.2V658.2M254.2,650.2h6.2M254.2,658.2h6.2M269.4,656.8V665.5M266.3,656.8h6.2M266.3,665.5h6.2M281.4,655.1V662.9M278.3,655.1h6.2M278.3,662.9h6.2M293.5,655.7V663.4M290.4,655.7h6.2M290.4,663.4h6.2M305.6,654.0V661.9M302.5,654.0h6.2M302.5,661.9h6.2M317.7,653.2V662.6M314.6,653.2h6.2M314.6,662.6h6.2M329.8,661.2V670.7M326.6,661.2h6.2M326.6,670.7h6.2M341.8,660.7V671.2M338.7,660.7h6.2M338.7,671.2h6.2M353.9,671.4V685.1M350.8,671.4h6.2M350.8,685.1h6.2M366.0,684.0V700.3M362.9,684.0h6.2M362.9,700.3h6.2M378.1,704.7V724.5M374.9,704.7h6.2M374.9,724.5h6.2M390.1,734.0V753.0M387.0,734.0h6.2M387.0,753.0h6.2M398.2,755.4V770.1M395.1,755.4h6.2M395.1,770.1h6.2M402.2,767.2V779.7M399.1,767.2h6.2M399.1,779.7h6.2M406.2,777.8V789.5M403.1,777.8h6.2M403.1,789.5h6.2M410.2,785.3V796.9M407.1,785.3h6.2M407.1,796.9h6.2M414.3,795.7V805.8M411.2,795.7h6.2M411.2,805.8h6.2M418.3,798.0V805.7M415.2,798.0h6.2M415.2,805.7h6.2M422.3,798.0V805.6M419.2,798.0h6.2M419.2,805.6h6.2M426.4,796.7V805.9M423.2,796.7h6.2M423.2,805.9h6.2M430.4,788.2V800.5M427.3,788.2h6.2M427.3,800.5h6.2M434.4,774.1V787.8M431.3,774.1h6.2M431.3,787.8h6.2M438.4,759.1V778.3M435.3,759.1h6.2M435.3,778.3h6.2M450.5,722.1V742.5M447.4,722.1h6.2M447.4,742.5h6.2M462.6,682.5V702.9M459.5,682.5h6.2M459.5,702.9h6.2M474.7,663.9V680.9M471.6,663.9h6.2M471.6,680.9h6.2M486.7,645.1V661.1M483.6,645.1h6.2M483.6,661.1h6.2M510.9,631.1V643.0M507.8,631.1h6.2M507.8,643.0h6.2M523.0,630.5V639.3M519.9,630.5h6.2M519.9,639.3h6.2M535.0,627.6V635.8M531.9,627.6h6.2M531.9,635.8h6.2M547.1,628.0V635.5M544.0,628.0h6.2M544.0,635.5h6.2M559.2,627.1V636.3M556.1,627.1h6.2M556.1,636.3h6.2M571.2,635.0V643.4M568.1,635.0h6.2M568.1,643.4h6.2M583.3,623.3V632.7M580.2,623.3h6.2M580.2,632.7h6.2M595.4,626.3V636.0M592.3,626.3h6.2M592.3,636.0h6.2M607.5,613.7V624.0M604.4,613.7h6.2M604.4,624.0h6.2M619.6,614.7V624.1M616.5,614.7h6.2M616.5,624.1h6.2M631.6,606.1V615.6M628.5,606.1h6.2M628.5,615.6h6.2" stroke="#8bc56b" stroke-width="1.3" fill="none"/>
<g fill="#8bc56b"><circle cx="196.9" cy="643.5" r="3.1"/><circle cx="209.0" cy="646.7" r="3.1"/><circle cx="221.1" cy="652.6" r="3.1"/><circle cx="233.2" cy="655.2" r="3.1"/><circle cx="245.2" cy="659.0" r="3.1"/><circle cx="257.3" cy="654.2" r="3.1"/><circle cx="269.4" cy="661.1" r="3.1"/><circle cx="281.4" cy="659.0" r="3.1"/><circle cx="293.5" cy="659.5" r="3.1"/><circle cx="305.6" cy="657.9" r="3.1"/><circle cx="317.7" cy="657.9" r="3.1"/><circle cx="329.8" cy="665.9" r="3.1"/><circle cx="341.8" cy="665.9" r="3.1"/><circle cx="353.9" cy="678.2" r="3.1"/><circle cx="366.0" cy="692.2" r="3.1"/><circle cx="378.1" cy="714.6" r="3.1"/><circle cx="390.1" cy="743.5" r="3.1"/><circle cx="398.2" cy="762.8" r="3.1"/><circle cx="402.2" cy="773.5" r="3.1"/><circle cx="406.2" cy="783.6" r="3.1"/><circle cx="410.2" cy="791.1" r="3.1"/><circle cx="414.3" cy="800.8" r="3.1"/><circle cx="418.3" cy="801.8" r="3.1"/><circle cx="422.3" cy="801.8" r="3.1"/><circle cx="426.4" cy="801.3" r="3.1"/><circle cx="430.4" cy="794.3" r="3.1"/><circle cx="434.4" cy="781.0" r="3.1"/><circle cx="438.4" cy="768.7" r="3.1"/><circle cx="450.5" cy="732.3" r="3.1"/><circle cx="462.6" cy="692.7" r="3.1"/><circle cx="474.7" cy="672.4" r="3.1"/><circle cx="486.7" cy="653.1" r="3.1"/><circle cx="510.9" cy="637.1" r="3.1"/><circle cx="523.0" cy="634.9" r="3.1"/><circle cx="535.0" cy="631.7" r="3.1"/><circle cx="547.1" cy="631.7" r="3.1"/><circle cx="559.2" cy="631.7" r="3.1"/><circle cx="571.2" cy="639.2" r="3.1"/><circle cx="583.3" cy="628.0" r="3.1"/><circle cx="595.4" cy="631.2" r="3.1"/><circle cx="607.5" cy="618.9" r="3.1"/><circle cx="619.6" cy="619.4" r="3.1"/><circle cx="631.6" cy="610.8" r="3.1"/></g>
<polyline points="196.9,638.1 209.0,645.1 221.1,649.4 233.2,650.4 245.2,651.5 257.3,645.1 269.4,652.6 281.4,659.0 293.5,656.9 305.6,658.5 317.7,652.0 329.8,665.4 341.8,680.4 353.9,663.8 366.0,677.2 378.1,683.6 390.1,715.2 398.2,736.6 402.2,749.9 406.2,762.2 410.2,772.4 414.3,777.2 418.3,779.9 422.3,772.9 426.4,764.9 430.4,750.5 434.4,739.8 438.4,725.3 450.5,683.1 462.6,660.1 474.7,647.8 486.7,644.5 510.9,637.1 523.0,623.7 535.0,636.5 547.1,629.0 559.2,621.5 571.2,617.3 583.3,613.0 595.4,611.4 607.5,609.2 619.6,601.2 631.6,591.6" fill="none" stroke="#43bcd6" stroke-width="1.3"/>
<path d="M196.9,633.5V642.7M193.8,633.5h6.2M193.8,642.7h6.2M209.0,640.0V650.2M205.9,640.0h6.2M205.9,650.2h6.2M221.1,645.0V653.7M218.0,645.0h6.2M218.0,653.7h6.2M233.2,646.4V654.4M230.1,646.4h6.2M230.1,654.4h6.2M245.2,647.1V655.9M242.1,647.1h6.2M242.1,655.9h6.2M257.3,641.2V649.0M254.2,641.2h6.2M254.2,649.0h6.2M269.4,647.2V658.0M266.3,647.2h6.2M266.3,658.0h6.2M281.4,654.7V663.2M278.3,654.7h6.2M278.3,663.2h6.2M293.5,653.0V660.7M290.4,653.0h6.2M290.4,660.7h6.2M305.6,654.1V662.8M302.5,654.1h6.2M302.5,662.8h6.2M317.7,647.5V656.6M314.6,647.5h6.2M314.6,656.6h6.2M329.8,658.3V672.6M326.6,658.3h6.2M326.6,672.6h6.2M341.8,676.5V684.3M338.7,676.5h6.2M338.7,684.3h6.2M353.9,659.7V667.9M350.8,659.7h6.2M350.8,667.9h6.2M366.0,671.1V683.3M362.9,671.1h6.2M362.9,683.3h6.2M378.1,675.3V691.9M374.9,675.3h6.2M374.9,691.9h6.2M390.1,705.1V725.3M387.0,705.1h6.2M387.0,725.3h6.2M398.2,728.6V744.5M395.1,728.6h6.2M395.1,744.5h6.2M402.2,743.1V756.8M399.1,743.1h6.2M399.1,756.8h6.2M406.2,755.8V768.7M403.1,755.8h6.2M403.1,768.7h6.2M410.2,766.9V778.0M407.1,766.9h6.2M407.1,778.0h6.2M414.3,772.6V781.9M411.2,772.6h6.2M411.2,781.9h6.2M418.3,775.6V784.2M415.2,775.6h6.2M415.2,784.2h6.2M422.3,767.4V778.5M419.2,767.4h6.2M419.2,778.5h6.2M426.4,758.5V771.4M423.2,758.5h6.2M423.2,771.4h6.2M430.4,743.7V757.2M427.3,743.7h6.2M427.3,757.2h6.2M434.4,733.0V746.5M431.3,733.0h6.2M431.3,746.5h6.2M438.4,715.2V735.5M435.3,715.2h6.2M435.3,735.5h6.2M450.5,672.9V693.2M447.4,672.9h6.2M447.4,693.2h6.2M462.6,652.1V668.0M459.5,652.1h6.2M459.5,668.0h6.2M474.7,642.1V653.4M471.6,642.1h6.2M471.6,653.4h6.2M486.7,639.5V649.6M483.6,639.5h6.2M483.6,649.6h6.2M510.9,630.8V643.3M507.8,630.8h6.2M507.8,643.3h6.2M523.0,619.9V627.5M519.9,619.9h6.2M519.9,627.5h6.2M535.0,632.1V640.9M531.9,632.1h6.2M531.9,640.9h6.2M547.1,623.5V634.6M544.0,623.5h6.2M544.0,634.6h6.2M559.2,616.4V626.7M556.1,616.4h6.2M556.1,626.7h6.2M571.2,612.5V622.0M568.1,612.5h6.2M568.1,622.0h6.2M583.3,608.5V617.4M580.2,608.5h6.2M580.2,617.4h6.2M595.4,607.2V615.6M592.3,607.2h6.2M592.3,615.6h6.2M607.5,604.3V614.2M604.4,604.3h6.2M604.4,614.2h6.2M619.6,595.3V607.1M616.5,595.3h6.2M616.5,607.1h6.2M631.6,586.7V596.5M628.5,586.7h6.2M628.5,596.5h6.2" stroke="#43bcd6" stroke-width="1.3" fill="none"/>
<g fill="#43bcd6"><circle cx="196.9" cy="638.1" r="3.1"/><circle cx="209.0" cy="645.1" r="3.1"/><circle cx="221.1" cy="649.4" r="3.1"/><circle cx="233.2" cy="650.4" r="3.1"/><circle cx="245.2" cy="651.5" r="3.1"/><circle cx="257.3" cy="645.1" r="3.1"/><circle cx="269.4" cy="652.6" r="3.1"/><circle cx="281.4" cy="659.0" r="3.1"/><circle cx="293.5" cy="656.9" r="3.1"/><circle cx="305.6" cy="658.5" r="3.1"/><circle cx="317.7" cy="652.0" r="3.1"/><circle cx="329.8" cy="665.4" r="3.1"/><circle cx="341.8" cy="680.4" r="3.1"/><circle cx="353.9" cy="663.8" r="3.1"/><circle cx="366.0" cy="677.2" r="3.1"/><circle cx="378.1" cy="683.6" r="3.1"/><circle cx="390.1" cy="715.2" r="3.1"/><circle cx="398.2" cy="736.6" r="3.1"/><circle cx="402.2" cy="749.9" r="3.1"/><circle cx="406.2" cy="762.2" r="3.1"/><circle cx="410.2" cy="772.4" r="3.1"/><circle cx="414.3" cy="777.2" r="3.1"/><circle cx="418.3" cy="779.9" r="3.1"/><circle cx="422.3" cy="772.9" r="3.1"/><circle cx="426.4" cy="764.9" r="3.1"/><circle cx="430.4" cy="750.5" r="3.1"/><circle cx="434.4" cy="739.8" r="3.1"/><circle cx="438.4" cy="725.3" r="3.1"/><circle cx="450.5" cy="683.1" r="3.1"/><circle cx="462.6" cy="660.1" r="3.1"/><circle cx="474.7" cy="647.8" r="3.1"/><circle cx="486.7" cy="644.5" r="3.1"/><circle cx="510.9" cy="637.1" r="3.1"/><circle cx="523.0" cy="623.7" r="3.1"/><circle cx="535.0" cy="636.5" r="3.1"/><circle cx="547.1" cy="629.0" r="3.1"/><circle cx="559.2" cy="621.5" r="3.1"/><circle cx="571.2" cy="617.3" r="3.1"/><circle cx="583.3" cy="613.0" r="3.1"/><circle cx="595.4" cy="611.4" r="3.1"/><circle cx="607.5" cy="609.2" r="3.1"/><circle cx="619.6" cy="601.2" r="3.1"/><circle cx="631.6" cy="591.6" r="3.1"/></g>
<polygon points="294.80,665.10 295.43,666.63 297.08,666.76 295.83,667.83 296.21,669.44 294.80,668.58 293.39,669.44 293.77,667.83 292.52,666.76 294.17,666.63" fill="#000"/>
<polygon points="354.10,686.00 354.73,687.53 356.38,687.66 355.13,688.73 355.51,690.34 354.10,689.48 352.69,690.34 353.07,688.73 351.82,687.66 353.47,687.53" fill="#000"/>
<polygon points="366.90,711.50 367.53,713.03 369.18,713.16 367.93,714.23 368.31,715.84 366.90,714.98 365.49,715.84 365.87,714.23 364.62,713.16 366.27,713.03" fill="#000"/>
<polygon points="378.70,739.80 379.33,741.33 380.98,741.46 379.73,742.53 380.11,744.14 378.70,743.28 377.29,744.14 377.67,742.53 376.42,741.46 378.07,741.33" fill="#000"/>
<polygon points="398.80,808.90 399.43,810.43 401.08,810.56 399.83,811.63 400.21,813.24 398.80,812.38 397.39,813.24 397.77,811.63 396.52,810.56 398.17,810.43" fill="#000"/>
<polygon points="408.70,802.00 409.33,803.53 410.98,803.66 409.73,804.73 410.11,806.34 408.70,805.48 407.29,806.34 407.67,804.73 406.42,803.66 408.07,803.53" fill="#000"/>
<polygon points="412.40,805.70 413.03,807.23 414.68,807.36 413.43,808.43 413.81,810.04 412.40,809.18 410.99,810.04 411.37,808.43 410.12,807.36 411.77,807.23" fill="#000"/>
<polygon points="405.70,820.70 406.33,822.23 407.98,822.36 406.73,823.43 407.11,825.04 405.70,824.18 404.29,825.04 404.67,823.43 403.42,822.36 405.07,822.23" fill="#000"/>
<polygon points="412.40,827.80 413.03,829.33 414.68,829.46 413.43,830.53 413.81,832.14 412.40,831.28 410.99,832.14 411.37,830.53 410.12,829.46 411.77,829.33" fill="#000"/>
<polygon points="418.00,809.90 418.63,811.43 420.28,811.56 419.03,812.63 419.41,814.24 418.00,813.38 416.59,814.24 416.97,812.63 415.72,811.56 417.37,811.43" fill="#000"/>
<polygon points="474.50,655.20 475.13,656.73 476.78,656.86 475.53,657.93 475.91,659.54 474.50,658.68 473.09,659.54 473.47,657.93 472.22,656.86 473.87,656.73" fill="#000"/>
<polygon points="459.50,673.00 460.13,674.53 461.78,674.66 460.53,675.73 460.91,677.34 459.50,676.48 458.09,677.34 458.47,675.73 457.22,674.66 458.87,674.53" fill="#000"/>
<polygon points="450.40,702.00 451.03,703.53 452.68,703.66 451.43,704.73 451.81,706.34 450.40,705.48 448.99,706.34 449.37,704.73 448.12,703.66 449.77,703.53" fill="#000"/>
<polygon points="473.80,694.40 474.43,695.93 476.08,696.06 474.83,697.13 475.21,698.74 473.80,697.88 472.39,698.74 472.77,697.13 471.52,696.06 473.17,695.93" fill="#000"/>
<polygon points="461.50,725.80 462.13,727.33 463.78,727.46 462.53,728.53 462.91,730.14 461.50,729.28 460.09,730.14 460.47,728.53 459.22,727.46 460.87,727.33" fill="#000"/>
<polygon points="450.40,766.40 451.03,767.93 452.68,768.06 451.43,769.13 451.81,770.74 450.40,769.88 448.99,770.74 449.37,769.13 448.12,768.06 449.77,767.93" fill="#000"/>
<polygon points="438.10,748.00 438.73,749.53 440.38,749.66 439.13,750.73 439.51,752.34 438.10,751.48 436.69,752.34 437.07,750.73 435.82,749.66 437.47,749.53" fill="#000"/>
<polygon points="433.20,757.10 433.83,758.63 435.48,758.76 434.23,759.83 434.61,761.44 433.20,760.58 431.79,761.44 432.17,759.83 430.92,758.76 432.57,758.63" fill="#000"/>
<polygon points="430.00,773.10 430.63,774.63 432.28,774.76 431.03,775.83 431.41,777.44 430.00,776.58 428.59,777.44 428.97,775.83 427.72,774.76 429.37,774.63" fill="#000"/>
<polygon points="426.60,780.70 427.23,782.23 428.88,782.36 427.63,783.43 428.01,785.04 426.60,784.18 425.19,785.04 425.57,783.43 424.32,782.36 425.97,782.23" fill="#000"/>
<polygon points="423.90,784.40 424.53,785.93 426.18,786.06 424.93,787.13 425.31,788.74 423.90,787.88 422.49,788.74 422.87,787.13 421.62,786.06 423.27,785.93" fill="#000"/>
<polygon points="437.40,796.70 438.03,798.23 439.68,798.36 438.43,799.43 438.81,801.04 437.40,800.18 435.99,801.04 436.37,799.43 435.12,798.36 436.77,798.23" fill="#000"/>
<polygon points="432.00,803.80 432.63,805.33 434.28,805.46 433.03,806.53 433.41,808.14 432.00,807.28 430.59,808.14 430.97,806.53 429.72,805.46 431.37,805.33" fill="#000"/>
<polygon points="427.10,807.80 427.73,809.33 429.38,809.46 428.13,810.53 428.51,812.14 427.10,811.28 425.69,812.14 426.07,810.53 424.82,809.46 426.47,809.33" fill="#000"/>
<polygon points="423.90,810.20 424.53,811.73 426.18,811.86 424.93,812.93 425.31,814.54 423.90,813.68 422.49,814.54 422.87,812.93 421.62,811.86 423.27,811.73" fill="#000"/>
<line x1="206.6" y1="726.5" x2="218.8" y2="726.5" stroke="#404040" stroke-width="1.3" />
<circle cx="212.7" cy="726.5" r="3.1" fill="#404040"/>
<text class="c" x="224.3" y="730.8" font-size="12.8" text-anchor="start" fill="#111" font-weight="normal" font-style="normal" >Sham</text>
<line x1="206.6" y1="743.0" x2="218.8" y2="743.0" stroke="#43bcd6" stroke-width="1.3" />
<circle cx="212.7" cy="743.0" r="3.1" fill="#43bcd6"/>
<text class="c" x="224.3" y="747.3" font-size="12.8" text-anchor="start" fill="#111" font-weight="normal" font-style="normal" >170 Kdyn</text>
<line x1="206.6" y1="759.4" x2="218.8" y2="759.4" stroke="#8bc56b" stroke-width="1.3" />
<circle cx="212.7" cy="759.4" r="3.1" fill="#8bc56b"/>
<text class="c" x="224.3" y="763.7" font-size="12.8" text-anchor="start" fill="#111" font-weight="normal" font-style="normal" >200 Kdyn</text>
<line x1="206.6" y1="775.9" x2="218.8" y2="775.9" stroke="#dc1a84" stroke-width="1.3" />
<circle cx="212.7" cy="775.9" r="3.1" fill="#dc1a84"/>
<text class="c" x="224.3" y="780.2" font-size="12.8" text-anchor="start" fill="#111" font-weight="normal" font-style="normal" >250 Kdyn</text>
<line x1="206.6" y1="792.6" x2="218.8" y2="792.6" stroke="#7d1643" stroke-width="1.3" />
<circle cx="212.7" cy="792.6" r="3.1" fill="#7d1643"/>
<text class="c" x="224.3" y="796.9" font-size="12.8" text-anchor="start" fill="#111" font-weight="normal" font-style="normal" >250Kdyn + 3s</text>
<line x1="787.6" y1="846.9" x2="795.4" y2="846.9" stroke="#1a1a1a" stroke-width="1.9" />
<text class="c" x="785.6" y="853.6" font-size="18.6" text-anchor="end" fill="#111" font-weight="normal" font-style="normal" >0</text>
<line x1="787.6" y1="784.425" x2="795.4" y2="784.425" stroke="#1a1a1a" stroke-width="1.9" />
<text class="c" x="785.6" y="791.1" font-size="18.6" text-anchor="end" fill="#111" font-weight="normal" font-style="normal" >50</text>
<line x1="787.6" y1="721.95" x2="795.4" y2="721.95" stroke="#1a1a1a" stroke-width="1.9" />
<text class="c" x="785.6" y="728.7" font-size="18.6" text-anchor="end" fill="#111" font-weight="normal" font-style="normal" >100</text>
<line x1="787.6" y1="659.475" x2="795.4" y2="659.475" stroke="#1a1a1a" stroke-width="1.9" />
<text class="c" x="785.6" y="666.2" font-size="18.6" text-anchor="end" fill="#111" font-weight="normal" font-style="normal" >150</text>
<line x1="787.6" y1="597.0" x2="795.4" y2="597.0" stroke="#1a1a1a" stroke-width="1.9" />
<text class="c" x="785.6" y="603.7" font-size="18.6" text-anchor="end" fill="#111" font-weight="normal" font-style="normal" >200</text>
<line x1="795.4" y1="596.0" x2="795.4" y2="847.9" stroke="#1a1a1a" stroke-width="2.0" />
<line x1="787.6" y1="846.9" x2="1240.0" y2="846.9" stroke="#1a1a1a" stroke-width="2.0" />
<line x1="845.6" y1="846.9" x2="845.6" y2="854.2" stroke="#1a1a1a" stroke-width="1.9" />
<text class="c" x="845.6" y="870.9" font-size="17.0" text-anchor="middle" fill="#111" font-weight="normal" font-style="normal" >Sham</text>
<line x1="931.4" y1="846.9" x2="931.4" y2="854.2" stroke="#1a1a1a" stroke-width="1.9" />
<text class="c" x="931.4" y="870.9" font-size="17.0" text-anchor="middle" fill="#111" font-weight="normal" font-style="normal" >170 kDyn</text>
<line x1="1017.1" y1="846.9" x2="1017.1" y2="854.2" stroke="#1a1a1a" stroke-width="1.9" />
<text class="c" x="1017.1" y="870.9" font-size="17.0" text-anchor="middle" fill="#111" font-weight="normal" font-style="normal" >200 kDyn</text>
<line x1="1102.9" y1="846.9" x2="1102.9" y2="854.2" stroke="#1a1a1a" stroke-width="1.9" />
<text class="c" x="1102.9" y="870.9" font-size="17.0" text-anchor="middle" fill="#111" font-weight="normal" font-style="normal" >250 kDyn</text>
<line x1="1189.1" y1="846.9" x2="1189.1" y2="854.2" stroke="#1a1a1a" stroke-width="1.9" />
<text class="c" x="1189.1" y="870.9" font-size="17.0" text-anchor="middle" fill="#111" font-weight="normal" font-style="normal" >250+3 kDyn</text>
<text class="c" transform="translate(741.6,835.5) rotate(-90)" font-size="16.3" fill="#111" textLength="218.7" lengthAdjust="spacingAndGlyphs">spared tissue volume [mm<tspan font-size="10.5" dy="-6">3</tspan><tspan dy="6">]</tspan></text>
<rect x="811.0" y="677.7" width="69.3" height="169.2" fill="#404040" stroke="#000" stroke-width="2.2"/>
<rect x="897.0" y="721.6" width="69.0" height="125.3" fill="#43bcd6" stroke="#000" stroke-width="2.2"/>
<rect x="983.1" y="732.2" width="68.6" height="114.7" fill="#8bc56b" stroke="#000" stroke-width="2.2"/>
<rect x="1068.8" y="743.3" width="68.6" height="103.6" fill="#dc1a84" stroke="#000" stroke-width="2.2"/>
<rect x="1155.0" y="750.6" width="68.7" height="96.3" fill="#7d1643" stroke="#000" stroke-width="2.2"/>
<line x1="827" y1="673.8" x2="854" y2="673.8" stroke="#000" stroke-width="1.8" />
<line x1="912" y1="717.8" x2="951" y2="717.8" stroke="#000" stroke-width="1.8" />
<line x1="997" y1="728.6" x2="1038" y2="728.6" stroke="#000" stroke-width="1.8" />
<line x1="1083" y1="739.8" x2="1123" y2="739.8" stroke="#000" stroke-width="1.8" />
<line x1="1170" y1="747.2" x2="1209" y2="747.2" stroke="#000" stroke-width="1.8" />
<g fill="#fff" stroke="#888" stroke-width="0.8"><circle cx="840.8" cy="657.6" r="5.0"/><circle cx="867.3" cy="659.5" r="5.0"/><circle cx="823.6" cy="666.8" r="5.0"/><circle cx="814.8" cy="673" r="5.0"/><circle cx="858.6" cy="670.1" r="5.0"/><circle cx="867.3" cy="671.1" r="5.0"/><circle cx="823.6" cy="677.9" r="5.0"/><circle cx="832.2" cy="681.8" r="5.0"/><circle cx="840.8" cy="679.1" r="5.0"/><circle cx="849.8" cy="678.4" r="5.0"/><circle cx="858.6" cy="681.2" r="5.0"/><circle cx="814.8" cy="686.7" r="5.0"/><circle cx="849.8" cy="689.2" r="5.0"/><circle cx="867.3" cy="687.9" r="5.0"/><circle cx="876.1" cy="685.2" r="5.0"/></g>
<g fill="#fff" stroke="#43bcd6" stroke-width="0.8"><circle cx="910.7" cy="703.3" r="5.0"/><circle cx="900.7" cy="712.5" r="5.0"/><circle cx="910.7" cy="714.9" r="5.0"/><circle cx="921.3" cy="716.5" r="5.0"/><circle cx="931.3" cy="709.6" r="5.0"/><circle cx="951.6" cy="708.8" r="5.0"/><circle cx="962" cy="712.5" r="5.0"/><circle cx="931.3" cy="721" r="5.0"/><circle cx="941.8" cy="718.3" r="5.0"/><circle cx="951.6" cy="722.3" r="5.0"/><circle cx="921.3" cy="728.4" r="5.0"/><circle cx="931.3" cy="730.9" r="5.0"/><circle cx="941.8" cy="730.2" r="5.0"/><circle cx="910.7" cy="732.7" r="5.0"/><circle cx="951.6" cy="733.3" r="5.0"/></g>
<g fill="#fff" stroke="#8bc56b" stroke-width="0.8"><circle cx="996.9" cy="717.7" r="5.0"/><circle cx="986.5" cy="723.6" r="5.0"/><circle cx="1007.3" cy="724.2" r="5.0"/><circle cx="1027.5" cy="714.5" r="5.0"/><circle cx="1037.7" cy="721" r="5.0"/><circle cx="996.9" cy="728.6" r="5.0"/><circle cx="1017.1" cy="729.4" r="5.0"/><circle cx="1027.5" cy="726.8" r="5.0"/><circle cx="1037.7" cy="732" r="5.0"/><circle cx="1048.3" cy="733.8" r="5.0"/><circle cx="1007.3" cy="736.6" r="5.0"/><circle cx="996.9" cy="742.3" r="5.0"/><circle cx="1017.1" cy="742.3" r="5.0"/><circle cx="1027.5" cy="738.4" r="5.0"/><circle cx="1037.7" cy="745.7" r="5.0"/></g>
<g fill="#fff" stroke="#dc1a84" stroke-width="0.8"><circle cx="1103.4" cy="718.2" r="5.0"/><circle cx="1072.2" cy="746.2" r="5.0"/><circle cx="1078.7" cy="741.8" r="5.0"/><circle cx="1089.1" cy="742.3" r="5.0"/><circle cx="1096.9" cy="737.7" r="5.0"/><circle cx="1109.1" cy="738.4" r="5.0"/><circle cx="1121" cy="737.7" r="5.0"/><circle cx="1128" cy="743.6" r="5.0"/><circle cx="1134.5" cy="744.9" r="5.0"/><circle cx="1096.9" cy="748.8" r="5.0"/><circle cx="1109.1" cy="748.8" r="5.0"/><circle cx="1121" cy="748.8" r="5.0"/><circle cx="1085.2" cy="743.6" r="5.0"/><circle cx="1103.4" cy="743.6" r="5.0"/><circle cx="1116.4" cy="743.6" r="5.0"/></g>
<g fill="#fff" stroke="#7d1643" stroke-width="0.8"><circle cx="1186" cy="734.5" r="5.0"/><circle cx="1193" cy="737.7" r="5.0"/><circle cx="1172.2" cy="740.3" r="5.0"/><circle cx="1199.5" cy="743.6" r="5.0"/><circle cx="1165.2" cy="748.8" r="5.0"/><circle cx="1179.2" cy="750.1" r="5.0"/><circle cx="1186" cy="744.9" r="5.0"/><circle cx="1158.4" cy="755.3" r="5.0"/><circle cx="1172.2" cy="751.4" r="5.0"/><circle cx="1193" cy="751.4" r="5.0"/><circle cx="1199.5" cy="755.3" r="5.0"/><circle cx="1206" cy="755.3" r="5.0"/><circle cx="1213" cy="755.8" r="5.0"/><circle cx="1219.7" cy="752.2" r="5.0"/><circle cx="1186" cy="758.7" r="5.0"/></g>
<path d="M845.3,536.6 V519.3 H1189.4 V561.3" stroke="#1a1a1a" stroke-width="1.5" fill="none" stroke-linejoin="miter" stroke-linecap="butt"/>
<path d="M1008.44,510.90L1007.86,507.75L1007.07,507.75L1006.49,510.90ZM1006.49,510.90L1007.07,514.05L1007.86,514.05L1008.44,510.90ZM1007.95,511.75L1010.26,509.75L1009.86,509.06L1006.98,510.05ZM1007.95,510.05L1005.07,509.06L1004.67,509.75L1006.98,511.75ZM1006.98,510.05L1004.67,512.05L1005.07,512.74L1007.95,511.75ZM1006.98,511.75L1009.86,512.74L1010.26,512.05L1007.95,510.05ZM1014.93,510.90L1014.35,507.75L1013.56,507.75L1012.98,510.90ZM1012.98,510.90L1013.56,514.05L1014.35,514.05L1014.93,510.90ZM1014.44,511.75L1016.75,509.75L1016.35,509.06L1013.47,510.05ZM1014.44,510.05L1011.56,509.06L1011.16,509.75L1013.47,511.75ZM1013.47,510.05L1011.16,512.05L1011.56,512.74L1014.44,511.75ZM1013.47,511.75L1016.35,512.74L1016.75,512.05L1014.44,510.05ZM1021.42,510.90L1020.84,507.75L1020.05,507.75L1019.47,510.90ZM1019.47,510.90L1020.05,514.05L1020.84,514.05L1021.42,510.90ZM1020.93,511.75L1023.24,509.75L1022.84,509.06L1019.96,510.05ZM1020.93,510.05L1018.05,509.06L1017.65,509.75L1019.96,511.75ZM1019.96,510.05L1017.65,512.05L1018.05,512.74L1020.93,511.75ZM1019.96,511.75L1022.84,512.74L1023.24,512.05L1020.93,510.05ZM1027.91,510.90L1027.33,507.75L1026.54,507.75L1025.96,510.90ZM1025.96,510.90L1026.54,514.05L1027.33,514.05L1027.91,510.90ZM1027.42,511.75L1029.73,509.75L1029.33,509.06L1026.45,510.05ZM1027.42,510.05L1024.54,509.06L1024.14,509.75L1026.45,511.75ZM1026.45,510.05L1024.14,512.05L1024.54,512.74L1027.42,511.75ZM1026.45,511.75L1029.33,512.74L1029.73,512.05L1027.42,510.05Z" fill="#000"/>
<g fill="#000"><circle cx="1007.47" cy="510.90" r="1.52"/><circle cx="1013.96" cy="510.90" r="1.52"/><circle cx="1020.45" cy="510.90" r="1.52"/><circle cx="1026.93" cy="510.90" r="1.52"/></g>
<path d="M845.3,586.0 V544.0 H1103.4 V561.3" stroke="#1a1a1a" stroke-width="1.5" fill="none" stroke-linejoin="miter" stroke-linecap="butt"/>
<path d="M965.54,535.60L964.96,532.45L964.17,532.45L963.59,535.60ZM963.59,535.60L964.17,538.75L964.96,538.75L965.54,535.60ZM965.05,536.45L967.36,534.45L966.96,533.76L964.08,534.75ZM965.05,534.75L962.17,533.76L961.77,534.45L964.08,536.45ZM964.08,534.75L961.77,536.75L962.17,537.44L965.05,536.45ZM964.08,536.45L966.96,537.44L967.36,536.75L965.05,534.75ZM972.03,535.60L971.45,532.45L970.66,532.45L970.08,535.60ZM970.08,535.60L970.66,538.75L971.45,538.75L972.03,535.60ZM971.54,536.45L973.85,534.45L973.45,533.76L970.57,534.75ZM971.54,534.75L968.66,533.76L968.26,534.45L970.57,536.45ZM970.57,534.75L968.26,536.75L968.66,537.44L971.54,536.45ZM970.57,536.45L973.45,537.44L973.85,536.75L971.54,534.75ZM978.52,535.60L977.94,532.45L977.15,532.45L976.57,535.60ZM976.57,535.60L977.15,538.75L977.94,538.75L978.52,535.60ZM978.03,536.45L980.34,534.45L979.94,533.76L977.06,534.75ZM978.03,534.75L975.15,533.76L974.75,534.45L977.06,536.45ZM977.06,534.75L974.75,536.75L975.15,537.44L978.03,536.45ZM977.06,536.45L979.94,537.44L980.34,536.75L978.03,534.75ZM985.01,535.60L984.43,532.45L983.64,532.45L983.06,535.60ZM983.06,535.60L983.64,538.75L984.43,538.75L985.01,535.60ZM984.52,536.45L986.83,534.45L986.43,533.76L983.55,534.75ZM984.52,534.75L981.64,533.76L981.24,534.45L983.55,536.45ZM983.55,534.75L981.24,536.75L981.64,537.44L984.52,536.45ZM983.55,536.45L986.43,537.44L986.83,536.75L984.52,534.75Z" fill="#000"/>
<g fill="#000"><circle cx="964.56" cy="535.60" r="1.52"/><circle cx="971.05" cy="535.60" r="1.52"/><circle cx="977.54" cy="535.60" r="1.52"/><circle cx="984.03" cy="535.60" r="1.52"/></g>
<path d="M931.1,577.0 V568.7 H1189.4 V586.0" stroke="#1a1a1a" stroke-width="1.5" fill="none" stroke-linejoin="miter" stroke-linecap="butt"/>
<path d="M1051.44,560.30L1050.86,557.15L1050.07,557.15L1049.49,560.30ZM1049.49,560.30L1050.07,563.45L1050.86,563.45L1051.44,560.30ZM1050.95,561.15L1053.26,559.15L1052.86,558.46L1049.98,559.45ZM1050.95,559.45L1048.07,558.46L1047.67,559.15L1049.98,561.15ZM1049.98,559.45L1047.67,561.45L1048.07,562.14L1050.95,561.15ZM1049.98,561.15L1052.86,562.14L1053.26,561.45L1050.95,559.45ZM1057.93,560.30L1057.35,557.15L1056.56,557.15L1055.98,560.30ZM1055.98,560.30L1056.56,563.45L1057.35,563.45L1057.93,560.30ZM1057.44,561.15L1059.75,559.15L1059.35,558.46L1056.47,559.45ZM1057.44,559.45L1054.56,558.46L1054.16,559.15L1056.47,561.15ZM1056.47,559.45L1054.16,561.45L1054.56,562.14L1057.44,561.15ZM1056.47,561.15L1059.35,562.14L1059.75,561.45L1057.44,559.45ZM1064.42,560.30L1063.84,557.15L1063.05,557.15L1062.47,560.30ZM1062.47,560.30L1063.05,563.45L1063.84,563.45L1064.42,560.30ZM1063.93,561.15L1066.24,559.15L1065.84,558.46L1062.96,559.45ZM1063.93,559.45L1061.05,558.46L1060.65,559.15L1062.96,561.15ZM1062.96,559.45L1060.65,561.45L1061.05,562.14L1063.93,561.15ZM1062.96,561.15L1065.84,562.14L1066.24,561.45L1063.93,559.45ZM1070.91,560.30L1070.33,557.15L1069.54,557.15L1068.96,560.30ZM1068.96,560.30L1069.54,563.45L1070.33,563.45L1070.91,560.30ZM1070.42,561.15L1072.73,559.15L1072.33,558.46L1069.45,559.45ZM1070.42,559.45L1067.54,558.46L1067.14,559.15L1069.45,561.15ZM1069.45,559.45L1067.14,561.45L1067.54,562.14L1070.42,561.15ZM1069.45,561.15L1072.33,562.14L1072.73,561.45L1070.42,559.45Z" fill="#000"/>
<g fill="#000"><circle cx="1050.47" cy="560.30" r="1.52"/><circle cx="1056.96" cy="560.30" r="1.52"/><circle cx="1063.45" cy="560.30" r="1.52"/><circle cx="1069.94" cy="560.30" r="1.52"/></g>
<path d="M845.3,635.4 V593.2 H1014.7 V601.3" stroke="#1a1a1a" stroke-width="1.5" fill="none" stroke-linejoin="miter" stroke-linecap="butt"/>
<path d="M921.24,584.80L920.66,581.65L919.87,581.65L919.29,584.80ZM919.29,584.80L919.87,587.95L920.66,587.95L921.24,584.80ZM920.75,585.65L923.06,583.65L922.66,582.96L919.78,583.95ZM920.75,583.95L917.87,582.96L917.47,583.65L919.78,585.65ZM919.78,583.95L917.47,585.95L917.87,586.64L920.75,585.65ZM919.78,585.65L922.66,586.64L923.06,585.95L920.75,583.95ZM927.73,584.80L927.15,581.65L926.36,581.65L925.78,584.80ZM925.78,584.80L926.36,587.95L927.15,587.95L927.73,584.80ZM927.24,585.65L929.55,583.65L929.15,582.96L926.27,583.95ZM927.24,583.95L924.36,582.96L923.96,583.65L926.27,585.65ZM926.27,583.95L923.96,585.95L924.36,586.64L927.24,585.65ZM926.27,585.65L929.15,586.64L929.55,585.95L927.24,583.95ZM934.22,584.80L933.64,581.65L932.85,581.65L932.27,584.80ZM932.27,584.80L932.85,587.95L933.64,587.95L934.22,584.80ZM933.73,585.65L936.04,583.65L935.64,582.96L932.76,583.95ZM933.73,583.95L930.85,582.96L930.45,583.65L932.76,585.65ZM932.76,583.95L930.45,585.95L930.85,586.64L933.73,585.65ZM932.76,585.65L935.64,586.64L936.04,585.95L933.73,583.95ZM940.71,584.80L940.13,581.65L939.34,581.65L938.76,584.80ZM938.76,584.80L939.34,587.95L940.13,587.95L940.71,584.80ZM940.22,585.65L942.53,583.65L942.13,582.96L939.25,583.95ZM940.22,583.95L937.34,582.96L936.94,583.65L939.25,585.65ZM939.25,583.95L936.94,585.95L937.34,586.64L940.22,585.65ZM939.25,585.65L942.13,586.64L942.53,585.95L940.22,583.95Z" fill="#000"/>
<g fill="#000"><circle cx="920.26" cy="584.80" r="1.52"/><circle cx="926.75" cy="584.80" r="1.52"/><circle cx="933.25" cy="584.80" r="1.52"/><circle cx="939.74" cy="584.80" r="1.52"/></g>
<path d="M1019.8,601.3 V593.2 H1189.4 V728.0" stroke="#1a1a1a" stroke-width="1.5" fill="none" stroke-linejoin="miter" stroke-linecap="butt"/>
<path d="M1095.84,584.80L1095.26,581.65L1094.47,581.65L1093.89,584.80ZM1093.89,584.80L1094.47,587.95L1095.26,587.95L1095.84,584.80ZM1095.35,585.65L1097.66,583.65L1097.26,582.96L1094.38,583.95ZM1095.35,583.95L1092.47,582.96L1092.07,583.65L1094.38,585.65ZM1094.38,583.95L1092.07,585.95L1092.47,586.64L1095.35,585.65ZM1094.38,585.65L1097.26,586.64L1097.66,585.95L1095.35,583.95ZM1102.33,584.80L1101.75,581.65L1100.96,581.65L1100.38,584.80ZM1100.38,584.80L1100.96,587.95L1101.75,587.95L1102.33,584.80ZM1101.84,585.65L1104.15,583.65L1103.75,582.96L1100.87,583.95ZM1101.84,583.95L1098.96,582.96L1098.56,583.65L1100.87,585.65ZM1100.87,583.95L1098.56,585.95L1098.96,586.64L1101.84,585.65ZM1100.87,585.65L1103.75,586.64L1104.15,585.95L1101.84,583.95ZM1108.82,584.80L1108.24,581.65L1107.45,581.65L1106.87,584.80ZM1106.87,584.80L1107.45,587.95L1108.24,587.95L1108.82,584.80ZM1108.33,585.65L1110.64,583.65L1110.24,582.96L1107.36,583.95ZM1108.33,583.95L1105.45,582.96L1105.05,583.65L1107.36,585.65ZM1107.36,583.95L1105.05,585.95L1105.45,586.64L1108.33,585.65ZM1107.36,585.65L1110.24,586.64L1110.64,585.95L1108.33,583.95ZM1115.31,584.80L1114.73,581.65L1113.94,581.65L1113.36,584.80ZM1113.36,584.80L1113.94,587.95L1114.73,587.95L1115.31,584.80ZM1114.82,585.65L1117.13,583.65L1116.73,582.96L1113.85,583.95ZM1114.82,583.95L1111.94,582.96L1111.54,583.65L1113.85,585.65ZM1113.85,583.95L1111.54,585.95L1111.94,586.64L1114.82,585.65ZM1113.85,585.65L1116.73,586.64L1117.13,585.95L1114.82,583.95Z" fill="#000"/>
<g fill="#000"><circle cx="1094.87" cy="584.80" r="1.52"/><circle cx="1101.36" cy="584.80" r="1.52"/><circle cx="1107.85" cy="584.80" r="1.52"/><circle cx="1114.34" cy="584.80" r="1.52"/></g>
<path d="M931.1,635.4 V617.9 H1103.4 V634.8" stroke="#1a1a1a" stroke-width="1.5" fill="none" stroke-linejoin="miter" stroke-linecap="butt"/>
<path d="M1008.44,609.50L1007.86,606.35L1007.07,606.35L1006.49,609.50ZM1006.49,609.50L1007.07,612.65L1007.86,612.65L1008.44,609.50ZM1007.95,610.35L1010.26,608.35L1009.86,607.66L1006.98,608.65ZM1007.95,608.65L1005.07,607.66L1004.67,608.35L1006.98,610.35ZM1006.98,608.65L1004.67,610.65L1005.07,611.34L1007.95,610.35ZM1006.98,610.35L1009.86,611.34L1010.26,610.65L1007.95,608.65ZM1014.93,609.50L1014.35,606.35L1013.56,606.35L1012.98,609.50ZM1012.98,609.50L1013.56,612.65L1014.35,612.65L1014.93,609.50ZM1014.44,610.35L1016.75,608.35L1016.35,607.66L1013.47,608.65ZM1014.44,608.65L1011.56,607.66L1011.16,608.35L1013.47,610.35ZM1013.47,608.65L1011.16,610.65L1011.56,611.34L1014.44,610.35ZM1013.47,610.35L1016.35,611.34L1016.75,610.65L1014.44,608.65ZM1021.42,609.50L1020.84,606.35L1020.05,606.35L1019.47,609.50ZM1019.47,609.50L1020.05,612.65L1020.84,612.65L1021.42,609.50ZM1020.93,610.35L1023.24,608.35L1022.84,607.66L1019.96,608.65ZM1020.93,608.65L1018.05,607.66L1017.65,608.35L1019.96,610.35ZM1019.96,608.65L1017.65,610.65L1018.05,611.34L1020.93,610.35ZM1019.96,610.35L1022.84,611.34L1023.24,610.65L1020.93,608.65ZM1027.91,609.50L1027.33,606.35L1026.54,606.35L1025.96,609.50ZM1025.96,609.50L1026.54,612.65L1027.33,612.65L1027.91,609.50ZM1027.42,610.35L1029.73,608.35L1029.33,607.66L1026.45,608.65ZM1027.42,608.65L1024.54,607.66L1024.14,608.35L1026.45,610.35ZM1026.45,608.65L1024.14,610.65L1024.54,611.34L1027.42,610.35ZM1026.45,610.35L1029.33,611.34L1029.73,610.65L1027.42,608.65Z" fill="#000"/>
<g fill="#000"><circle cx="1007.47" cy="609.50" r="1.52"/><circle cx="1013.96" cy="609.50" r="1.52"/><circle cx="1020.45" cy="609.50" r="1.52"/><circle cx="1026.93" cy="609.50" r="1.52"/></g>
<path d="M845.3,650.7 V642.6 H928.9 V696.0" stroke="#1a1a1a" stroke-width="1.5" fill="none" stroke-linejoin="miter" stroke-linecap="butt"/>
<path d="M878.34,634.20L877.76,631.05L876.97,631.05L876.39,634.20ZM876.39,634.20L876.97,637.35L877.76,637.35L878.34,634.20ZM877.85,635.05L880.16,633.05L879.76,632.36L876.88,633.35ZM877.85,633.35L874.97,632.36L874.57,633.05L876.88,635.05ZM876.88,633.35L874.57,635.35L874.97,636.04L877.85,635.05ZM876.88,635.05L879.76,636.04L880.16,635.35L877.85,633.35ZM884.83,634.20L884.25,631.05L883.46,631.05L882.88,634.20ZM882.88,634.20L883.46,637.35L884.25,637.35L884.83,634.20ZM884.34,635.05L886.65,633.05L886.25,632.36L883.37,633.35ZM884.34,633.35L881.46,632.36L881.06,633.05L883.37,635.05ZM883.37,633.35L881.06,635.35L881.46,636.04L884.34,635.05ZM883.37,635.05L886.25,636.04L886.65,635.35L884.34,633.35ZM891.32,634.20L890.74,631.05L889.95,631.05L889.37,634.20ZM889.37,634.20L889.95,637.35L890.74,637.35L891.32,634.20ZM890.83,635.05L893.14,633.05L892.74,632.36L889.86,633.35ZM890.83,633.35L887.95,632.36L887.55,633.05L889.86,635.05ZM889.86,633.35L887.55,635.35L887.95,636.04L890.83,635.05ZM889.86,635.05L892.74,636.04L893.14,635.35L890.83,633.35ZM897.81,634.20L897.23,631.05L896.44,631.05L895.86,634.20ZM895.86,634.20L896.44,637.35L897.23,637.35L897.81,634.20ZM897.32,635.05L899.63,633.05L899.23,632.36L896.35,633.35ZM897.32,633.35L894.44,632.36L894.04,633.05L896.35,635.05ZM896.35,633.35L894.04,635.35L894.44,636.04L897.32,635.05ZM896.35,635.05L899.23,636.04L899.63,635.35L897.32,633.35Z" fill="#000"/>
<g fill="#000"><circle cx="877.37" cy="634.20" r="1.52"/><circle cx="883.86" cy="634.20" r="1.52"/><circle cx="890.35" cy="634.20" r="1.52"/><circle cx="896.84" cy="634.20" r="1.52"/></g>
<path d="M933.8,696.0 V642.6 H1014.7 V707.3" stroke="#1a1a1a" stroke-width="1.5" fill="none" stroke-linejoin="miter" stroke-linecap="butt"/>
<path d="M975.28,634.20L974.70,631.05L973.90,631.05L973.32,634.20ZM973.32,634.20L973.90,637.35L974.70,637.35L975.28,634.20ZM974.79,635.05L977.09,633.05L976.69,632.36L973.81,633.35ZM974.79,633.35L971.91,632.36L971.51,633.05L973.81,635.05ZM973.81,633.35L971.51,635.35L971.91,636.04L974.79,635.05ZM973.81,635.05L976.69,636.04L977.09,635.35L974.79,633.35Z" fill="#000"/>
<g fill="#000"><circle cx="974.30" cy="634.20" r="1.52"/></g>
<path d="M1019.8,707.3 V642.6 H1103.4 V709.9" stroke="#1a1a1a" stroke-width="1.5" fill="none" stroke-linejoin="miter" stroke-linecap="butt"/>
<path d="M1059.43,634.20L1058.85,631.05L1058.06,631.05L1057.48,634.20ZM1057.48,634.20L1058.06,637.35L1058.85,637.35L1059.43,634.20ZM1058.94,635.05L1061.25,633.05L1060.85,632.36L1057.97,633.35ZM1058.94,633.35L1056.06,632.36L1055.66,633.05L1057.97,635.05ZM1057.97,633.35L1055.66,635.35L1056.06,636.04L1058.94,635.05ZM1057.97,635.05L1060.85,636.04L1061.25,635.35L1058.94,633.35ZM1065.92,634.20L1065.34,631.05L1064.55,631.05L1063.97,634.20ZM1063.97,634.20L1064.55,637.35L1065.34,637.35L1065.92,634.20ZM1065.43,635.05L1067.74,633.05L1067.34,632.36L1064.46,633.35ZM1065.43,633.35L1062.55,632.36L1062.15,633.05L1064.46,635.05ZM1064.46,633.35L1062.15,635.35L1062.55,636.04L1065.43,635.05ZM1064.46,635.05L1067.34,636.04L1067.74,635.35L1065.43,633.35Z" fill="#000"/>
<g fill="#000"><circle cx="1058.46" cy="634.20" r="1.52"/><circle cx="1064.95" cy="634.20" r="1.52"/></g>
<text x="839.6" y="905.2" font-size="14.5" text-anchor="start" fill="#111" font-weight="normal" font-style="italic" textLength="367.0" lengthAdjust="spacingAndGlyphs" >n= 15/group. *p&lt;0.05, **p&lt;0.01, ***p&lt;0.001.</text>
<defs>
<filter id="speck" x="0" y="0" width="100%" height="100%" filterUnits="objectBoundingBox">
  <feTurbulence type="fractalNoise" baseFrequency="0.9" numOctaves="1" seed="3" result="n"/>
  <feColorMatrix in="n" type="matrix" values="0 0 0 0 1  0 0 0 0 1  0 0 0 0 1  0 0 0 9 -5.4" result="d"/>
  <feComposite in="d" in2="SourceGraphic" operator="in"/>
</filter>
<filter id="speck2" x="0" y="0" width="100%" height="100%" filterUnits="objectBoundingBox">
  <feTurbulence type="fractalNoise" baseFrequency="0.8" numOctaves="1" seed="11" result="n"/>
  <feColorMatrix in="n" type="matrix" values="0 0 0 0 0.85  0 0 0 0 0.9  0 0 0 0 0.85  0 0 0 8 -4.6" result="d"/>
  <feComposite in="d" in2="SourceGraphic" operator="in"/>
</filter>
<filter id="mottle" x="0" y="0" width="100%" height="100%" filterUnits="objectBoundingBox">
  <feTurbulence type="fractalNoise" baseFrequency="0.45" numOctaves="2" seed="7" result="n"/>
  <feColorMatrix in="n" type="matrix" values="0 0 0 0 0  0 0 0 0 0.05  0 0 0 0 0  0 0 0 2.6 -1.0" result="d"/>
  <feComposite in="d" in2="SourceGraphic" operator="in"/>
</filter>
<filter id="glow" x="0" y="0" width="100%" height="100%" filterUnits="objectBoundingBox">
  <feTurbulence type="fractalNoise" baseFrequency="0.7" numOctaves="1" seed="21" result="n"/>
  <feColorMatrix in="n" type="matrix" values="0 0 0 0 0.3  0 0 0 0 0.85  0 0 0 0 0.3  0 0 0 5 -2.6" result="d"/>
  <feComposite in="d" in2="SourceGraphic" operator="in"/>
</filter>
<filter id="blur3"><feGaussianBlur stdDeviation="3"/></filter>
<filter id="blur6"><feGaussianBlur stdDeviation="7"/></filter>
<radialGradient id="gSham" cx="0.55" cy="0.45" r="0.6">
  <stop offset="0" stop-color="#164c1d"/><stop offset="0.55" stop-color="#1b6123"/><stop offset="0.85" stop-color="#217c29"/><stop offset="1" stop-color="#2d9c36"/>
</radialGradient>
<linearGradient id="gSci" x1="0" y1="0" x2="0" y2="1">
  <stop offset="0" stop-color="#36ae44"/><stop offset="0.3" stop-color="#2a9236"/><stop offset="0.55" stop-color="#1c6c26"/><stop offset="1" stop-color="#14541c"/>
</linearGradient>
<clipPath id="clipSham"><rect x="575" y="43" width="227" height="167"/></clipPath>
<clipPath id="clipSci"><rect x="581" y="253" width="225" height="167"/></clipPath>
</defs>
<g clip-path="url(#clipSham)">
<rect x="575" y="43" width="227" height="167" fill="#000"/>
<g transform="translate(575,43)">
<ellipse cx="114" cy="80" rx="126" ry="90" transform="rotate(-20 114 80)" fill="none" stroke="#ccc" stroke-width="0.8" stroke-dasharray="2 1.2" opacity="0.75"/>
<clipPath id="cordSham"><path d="M110.7,4.5 C119.6,4.3 133.1,5.5 142.9,8.0 C152.7,10.5 161.9,15.3 169.6,19.6 C177.3,23.9 184.2,28.2 189.3,33.9 C194.4,39.6 198.1,46.8 200.0,53.6 C201.9,60.5 201.5,68.5 200.9,75.0 C200.3,81.5 197.7,87.0 196.4,92.9 C195.1,98.9 195.0,104.5 192.9,110.7 C190.8,117.0 187.5,125.0 183.9,130.4 C180.3,135.8 176.8,139.3 171.4,142.9 C166.1,146.5 158.9,149.1 151.8,151.8 C144.7,154.5 134.9,157.3 128.6,158.9 C122.3,160.5 117.0,162.2 114.0,161.5 C111.0,160.8 111.7,154.8 110.5,155.0 C109.3,155.2 111.1,161.1 107.0,162.5 C102.9,163.9 93.7,164.3 85.7,163.4 C77.7,162.5 67.2,159.6 58.9,157.1 C50.6,154.6 42.2,152.4 35.7,148.2 C29.2,144.0 23.8,138.3 19.6,132.1 C15.4,125.8 12.2,117.8 10.7,110.7 C9.2,103.6 9.5,95.8 10.7,89.3 C11.9,82.8 14.6,77.7 17.9,71.4 C21.2,65.2 25.3,58.0 30.4,51.8 C35.5,45.5 42.0,39.3 48.2,33.9 C54.5,28.5 61.1,23.8 67.9,19.6 C74.8,15.4 82.2,11.4 89.3,8.9 C96.4,6.4 101.8,4.7 110.7,4.5Z"/></clipPath>
<path d="M110.7,4.5 C119.6,4.3 133.1,5.5 142.9,8.0 C152.7,10.5 161.9,15.3 169.6,19.6 C177.3,23.9 184.2,28.2 189.3,33.9 C194.4,39.6 198.1,46.8 200.0,53.6 C201.9,60.5 201.5,68.5 200.9,75.0 C200.3,81.5 197.7,87.0 196.4,92.9 C195.1,98.9 195.0,104.5 192.9,110.7 C190.8,117.0 187.5,125.0 183.9,130.4 C180.3,135.8 176.8,139.3 171.4,142.9 C166.1,146.5 158.9,149.1 151.8,151.8 C144.7,154.5 134.9,157.3 128.6,158.9 C122.3,160.5 117.0,162.2 114.0,161.5 C111.0,160.8 111.7,154.8 110.5,155.0 C109.3,155.2 111.1,161.1 107.0,162.5 C102.9,163.9 93.7,164.3 85.7,163.4 C77.7,162.5 67.2,159.6 58.9,157.1 C50.6,154.6 42.2,152.4 35.7,148.2 C29.2,144.0 23.8,138.3 19.6,132.1 C15.4,125.8 12.2,117.8 10.7,110.7 C9.2,103.6 9.5,95.8 10.7,89.3 C11.9,82.8 14.6,77.7 17.9,71.4 C21.2,65.2 25.3,58.0 30.4,51.8 C35.5,45.5 42.0,39.3 48.2,33.9 C54.5,28.5 61.1,23.8 67.9,19.6 C74.8,15.4 82.2,11.4 89.3,8.9 C96.4,6.4 101.8,4.7 110.7,4.5Z" fill="url(#gSham)"/>
<g clip-path="url(#cordSham)">
<g filter="url(#blur6)">
<ellipse cx="40" cy="140" rx="40" ry="22" fill="#3fc448" opacity="0.9"/>
<ellipse cx="110" cy="165" rx="45" ry="12" fill="#3cbc45" opacity="0.8"/>
<ellipse cx="190" cy="70" rx="14" ry="40" fill="#36b040" opacity="0.7"/>
<ellipse cx="120" cy="30" rx="22" ry="26" fill="#2f9e38" opacity="0.8"/>
<ellipse cx="20" cy="100" rx="12" ry="30" fill="#32a83b" opacity="0.7"/>
<ellipse cx="150" cy="140" rx="30" ry="15" fill="#2c9a35" opacity="0.6"/>
</g>
<filter id="blur15"><feGaussianBlur stdDeviation="1.5"/></filter>
<path d="M71.0,17.0 C73.8,12.8 95.5,13.7 99.0,18.0 C102.5,22.3 100.8,47.9 101.0,54.0 C101.2,60.1 99.7,67.3 101.0,70.0 C102.3,72.7 108.6,77.0 112.0,77.0 C115.4,77.0 126.6,72.0 130.0,70.0 C133.4,68.0 139.6,65.7 141.0,60.0 C142.4,54.3 138.4,25.7 142.0,21.0 C145.6,16.3 169.2,17.8 172.0,20.0 C174.8,22.2 167.6,35.3 166.0,40.0 C164.4,44.7 159.9,55.8 158.0,60.0 C156.1,64.2 151.6,72.3 150.0,76.0 C148.4,79.7 144.8,88.3 144.0,92.0 C143.2,95.7 145.7,106.1 143.0,108.0 C140.3,109.9 124.0,109.4 121.0,108.0 C118.0,106.6 119.3,97.4 117.0,96.0 C114.7,94.6 103.5,93.8 101.0,96.0 C98.5,98.2 99.2,112.8 96.0,115.0 C92.8,117.2 76.5,119.1 74.0,115.0 C71.5,110.9 74.9,87.1 75.0,80.0 C75.1,72.9 75.5,61.4 75.0,54.0 C74.5,46.6 68.2,21.2 71.0,17.0Z" fill="#082409" opacity="0.88" filter="url(#blur15)"/>
<path d="M71.0,17.0 C73.8,12.8 95.5,13.7 99.0,18.0 C102.5,22.3 100.8,47.9 101.0,54.0 C101.2,60.1 99.7,67.3 101.0,70.0 C102.3,72.7 108.6,77.0 112.0,77.0 C115.4,77.0 126.6,72.0 130.0,70.0 C133.4,68.0 139.6,65.7 141.0,60.0 C142.4,54.3 138.4,25.7 142.0,21.0 C145.6,16.3 169.2,17.8 172.0,20.0 C174.8,22.2 167.6,35.3 166.0,40.0 C164.4,44.7 159.9,55.8 158.0,60.0 C156.1,64.2 151.6,72.3 150.0,76.0 C148.4,79.7 144.8,88.3 144.0,92.0 C143.2,95.7 145.7,106.1 143.0,108.0 C140.3,109.9 124.0,109.4 121.0,108.0 C118.0,106.6 119.3,97.4 117.0,96.0 C114.7,94.6 103.5,93.8 101.0,96.0 C98.5,98.2 99.2,112.8 96.0,115.0 C92.8,117.2 76.5,119.1 74.0,115.0 C71.5,110.9 74.9,87.1 75.0,80.0 C75.1,72.9 75.5,61.4 75.0,54.0 C74.5,46.6 68.2,21.2 71.0,17.0Z" fill="#fff" filter="url(#speck)" opacity="0.28"/>
<path d="M102.0,8.0 C107.8,0.7 131.5,2.7 138.0,8.0 C144.5,13.3 142.0,31.0 141.0,40.0 C140.0,49.0 136.5,57.0 132.0,62.0 C127.5,67.0 118.8,71.7 114.0,70.0 C109.2,68.3 105.0,62.3 103.0,52.0 C101.0,41.7 96.2,15.3 102.0,8.0Z" fill="#2c9a35" opacity="0.7" filter="url(#blur3)"/>
<path d="M110.7,4.5 C119.6,4.3 133.1,5.5 142.9,8.0 C152.7,10.5 161.9,15.3 169.6,19.6 C177.3,23.9 184.2,28.2 189.3,33.9 C194.4,39.6 198.1,46.8 200.0,53.6 C201.9,60.5 201.5,68.5 200.9,75.0 C200.3,81.5 197.7,87.0 196.4,92.9 C195.1,98.9 195.0,104.5 192.9,110.7 C190.8,117.0 187.5,125.0 183.9,130.4 C180.3,135.8 176.8,139.3 171.4,142.9 C166.1,146.5 158.9,149.1 151.8,151.8 C144.7,154.5 134.9,157.3 128.6,158.9 C122.3,160.5 117.0,162.2 114.0,161.5 C111.0,160.8 111.7,154.8 110.5,155.0 C109.3,155.2 111.1,161.1 107.0,162.5 C102.9,163.9 93.7,164.3 85.7,163.4 C77.7,162.5 67.2,159.6 58.9,157.1 C50.6,154.6 42.2,152.4 35.7,148.2 C29.2,144.0 23.8,138.3 19.6,132.1 C15.4,125.8 12.2,117.8 10.7,110.7 C9.2,103.6 9.5,95.8 10.7,89.3 C11.9,82.8 14.6,77.7 17.9,71.4 C21.2,65.2 25.3,58.0 30.4,51.8 C35.5,45.5 42.0,39.3 48.2,33.9 C54.5,28.5 61.1,23.8 67.9,19.6 C74.8,15.4 82.2,11.4 89.3,8.9 C96.4,6.4 101.8,4.7 110.7,4.5Z" fill="#000" filter="url(#mottle)" opacity="0.6"/>
<path d="M110.7,4.5 C119.6,4.3 133.1,5.5 142.9,8.0 C152.7,10.5 161.9,15.3 169.6,19.6 C177.3,23.9 184.2,28.2 189.3,33.9 C194.4,39.6 198.1,46.8 200.0,53.6 C201.9,60.5 201.5,68.5 200.9,75.0 C200.3,81.5 197.7,87.0 196.4,92.9 C195.1,98.9 195.0,104.5 192.9,110.7 C190.8,117.0 187.5,125.0 183.9,130.4 C180.3,135.8 176.8,139.3 171.4,142.9 C166.1,146.5 158.9,149.1 151.8,151.8 C144.7,154.5 134.9,157.3 128.6,158.9 C122.3,160.5 117.0,162.2 114.0,161.5 C111.0,160.8 111.7,154.8 110.5,155.0 C109.3,155.2 111.1,161.1 107.0,162.5 C102.9,163.9 93.7,164.3 85.7,163.4 C77.7,162.5 67.2,159.6 58.9,157.1 C50.6,154.6 42.2,152.4 35.7,148.2 C29.2,144.0 23.8,138.3 19.6,132.1 C15.4,125.8 12.2,117.8 10.7,110.7 C9.2,103.6 9.5,95.8 10.7,89.3 C11.9,82.8 14.6,77.7 17.9,71.4 C21.2,65.2 25.3,58.0 30.4,51.8 C35.5,45.5 42.0,39.3 48.2,33.9 C54.5,28.5 61.1,23.8 67.9,19.6 C74.8,15.4 82.2,11.4 89.3,8.9 C96.4,6.4 101.8,4.7 110.7,4.5Z" fill="#000" filter="url(#glow)" opacity="0.22"/>
</g>
<path d="M110.7,4.5 C119.6,4.3 133.1,5.5 142.9,8.0 C152.7,10.5 161.9,15.3 169.6,19.6 C177.3,23.9 184.2,28.2 189.3,33.9 C194.4,39.6 198.1,46.8 200.0,53.6 C201.9,60.5 201.5,68.5 200.9,75.0 C200.3,81.5 197.7,87.0 196.4,92.9 C195.1,98.9 195.0,104.5 192.9,110.7 C190.8,117.0 187.5,125.0 183.9,130.4 C180.3,135.8 176.8,139.3 171.4,142.9 C166.1,146.5 158.9,149.1 151.8,151.8 C144.7,154.5 134.9,157.3 128.6,158.9 C122.3,160.5 117.0,162.2 114.0,161.5 C111.0,160.8 111.7,154.8 110.5,155.0 C109.3,155.2 111.1,161.1 107.0,162.5 C102.9,163.9 93.7,164.3 85.7,163.4 C77.7,162.5 67.2,159.6 58.9,157.1 C50.6,154.6 42.2,152.4 35.7,148.2 C29.2,144.0 23.8,138.3 19.6,132.1 C15.4,125.8 12.2,117.8 10.7,110.7 C9.2,103.6 9.5,95.8 10.7,89.3 C11.9,82.8 14.6,77.7 17.9,71.4 C21.2,65.2 25.3,58.0 30.4,51.8 C35.5,45.5 42.0,39.3 48.2,33.9 C54.5,28.5 61.1,23.8 67.9,19.6 C74.8,15.4 82.2,11.4 89.3,8.9 C96.4,6.4 101.8,4.7 110.7,4.5Z" fill="none" stroke="#2fa838" stroke-width="1.2" opacity="0.6"/>
<path d="M150,82 C150,66 168,60 183,62 C196,64 200,80 197,88 C188,96 166,95 153,88 Z" fill="#2a8a32" fill-opacity="0.35" stroke="#56cc56" stroke-width="3.0"/>
<path d="M152,84 C140,90 128,98 119,103" fill="none" stroke="#4fc44f" stroke-width="2.4"/>
<path d="M135,10 C142,8 146,16 140,28" fill="none" stroke="#4fc44f" stroke-width="4" opacity="0.8"/>
<ellipse cx="176" cy="46" rx="4" ry="4" fill="#1a5a20"/><ellipse cx="180" cy="56" rx="4" ry="4" fill="#1a5a20"/><ellipse cx="172" cy="37" rx="3" ry="3" fill="#1a5a20"/>
<line x1="110.5" y1="140" x2="110.5" y2="160" stroke="#0a2a0e" stroke-width="1.3"/>
<circle cx="112" cy="82" r="2" fill="#000" stroke="#fff" stroke-width="1.1"/>
<line x1="176.8" y1="158.2" x2="224.1" y2="158.2" stroke="#fff" stroke-width="1.5"/>
<text x="203" y="154.3" font-size="7" font-weight="bold" fill="#fff" text-anchor="middle">3 mm</text>
</g></g>
<g clip-path="url(#clipSci)">
<rect x="581" y="253" width="225" height="167" fill="#000"/>
<g transform="translate(581,253)">
<g fill="none" stroke="#bbb" stroke-width="0.8" stroke-dasharray="1.6 1.2" opacity="0.75">
<path d="M28,14 C50,8 75,10 100,14 C130,20 170,26 200,34"/>
<path d="M2,17 C10,20 20,28 22,40 C23,60 20,85 21,105 C23,122 30,132 48,138 C80,144 140,145 170,140 C195,134 212,122 218,100"/>
<path d="M205,40 C215,55 222,75 222,95"/>
<path d="M10,62 C12,80 8,100 6,125"/>
</g>
<path d="M5.0,30.0 C6.3,27.0 9.7,23.7 12.0,24.0 C14.3,24.3 17.7,27.7 19.0,32.0 C20.3,36.3 20.5,45.7 20.0,50.0 C19.5,54.3 18.0,57.2 16.0,58.0 C14.0,58.8 10.0,57.7 8.0,55.0 C6.0,52.3 4.5,46.2 4.0,42.0 C3.5,37.8 3.7,33.0 5.0,30.0Z" fill="#38b046"/>
<path d="M29.0,20.0 C30.7,17.3 35.7,15.5 40.0,15.0 C44.3,14.5 51.3,16.0 55.0,17.0 C58.7,18.0 59.7,20.0 62.0,21.0 C64.3,22.0 69.0,22.0 69.0,23.0 C69.0,24.0 65.2,26.3 62.0,27.0 C58.8,27.7 53.7,26.5 50.0,27.0 C46.3,27.5 43.3,29.3 40.0,30.0 C36.7,30.7 31.8,32.7 30.0,31.0 C28.2,29.3 27.3,22.7 29.0,20.0Z" fill="#3ab648"/>
<path d="M121.0,31.0 C123.2,29.5 129.8,28.7 135.0,29.0 C140.2,29.3 148.5,31.5 152.0,33.0 C155.5,34.5 156.7,36.5 156.0,38.0 C155.3,39.5 152.3,41.3 148.0,42.0 C143.7,42.7 134.3,42.7 130.0,42.0 C125.7,41.3 123.5,39.8 122.0,38.0 C120.5,36.2 118.8,32.5 121.0,31.0Z" fill="#5cc55c"/>
<path d="M198.0,100.0 C200.3,96.7 206.5,92.7 210.0,92.0 C213.5,91.3 217.5,91.7 219.0,96.0 C220.5,100.3 220.5,113.0 219.0,118.0 C217.5,123.0 213.5,125.0 210.0,126.0 C206.5,127.0 200.3,126.3 198.0,124.0 C195.7,121.7 196.0,116.0 196.0,112.0 C196.0,108.0 195.7,103.3 198.0,100.0Z" fill="#1e6e28"/>
<ellipse cx="36" cy="118" rx="6" ry="6.5" fill="#2a8a33"/>
<clipPath id="cordSci"><path d="M27.0,37.0 C29.8,32.2 34.2,31.2 42.0,29.0 C49.8,26.8 64.0,24.3 74.0,24.0 C84.0,23.7 92.7,25.0 102.0,27.0 C111.3,29.0 119.7,33.7 130.0,36.0 C140.3,38.3 154.3,39.2 164.0,41.0 C173.7,42.8 182.0,44.5 188.0,47.0 C194.0,49.5 197.2,52.7 200.0,56.0 C202.8,59.3 204.0,61.8 205.0,67.0 C206.0,72.2 206.3,81.2 206.0,87.0 C205.7,92.8 204.7,97.8 203.0,102.0 C201.3,106.2 199.2,108.3 196.0,112.0 C192.8,115.7 189.2,120.3 184.0,124.0 C178.8,127.7 172.3,131.7 165.0,134.0 C157.7,136.3 148.3,137.2 140.0,138.0 C131.7,138.8 122.5,139.0 115.0,139.0 C107.5,139.0 100.7,138.2 95.0,138.0 C89.3,137.8 87.7,139.0 81.0,137.5 C74.3,136.0 62.2,132.2 55.0,129.0 C47.8,125.8 42.5,122.8 38.0,118.0 C33.5,113.2 30.0,106.3 28.0,100.0 C26.0,93.7 26.4,87.0 26.0,80.0 C25.6,73.0 25.3,65.2 25.5,58.0 C25.7,50.8 24.2,41.8 27.0,37.0Z"/></clipPath>
<path d="M27.0,37.0 C29.8,32.2 34.2,31.2 42.0,29.0 C49.8,26.8 64.0,24.3 74.0,24.0 C84.0,23.7 92.7,25.0 102.0,27.0 C111.3,29.0 119.7,33.7 130.0,36.0 C140.3,38.3 154.3,39.2 164.0,41.0 C173.7,42.8 182.0,44.5 188.0,47.0 C194.0,49.5 197.2,52.7 200.0,56.0 C202.8,59.3 204.0,61.8 205.0,67.0 C206.0,72.2 206.3,81.2 206.0,87.0 C205.7,92.8 204.7,97.8 203.0,102.0 C201.3,106.2 199.2,108.3 196.0,112.0 C192.8,115.7 189.2,120.3 184.0,124.0 C178.8,127.7 172.3,131.7 165.0,134.0 C157.7,136.3 148.3,137.2 140.0,138.0 C131.7,138.8 122.5,139.0 115.0,139.0 C107.5,139.0 100.7,138.2 95.0,138.0 C89.3,137.8 87.7,139.0 81.0,137.5 C74.3,136.0 62.2,132.2 55.0,129.0 C47.8,125.8 42.5,122.8 38.0,118.0 C33.5,113.2 30.0,106.3 28.0,100.0 C26.0,93.7 26.4,87.0 26.0,80.0 C25.6,73.0 25.3,65.2 25.5,58.0 C25.7,50.8 24.2,41.8 27.0,37.0Z" fill="url(#gSci)"/>
<g clip-path="url(#cordSci)">
<g filter="url(#blur6)">
<ellipse cx="170" cy="62" rx="35" ry="18" fill="#3ab845" opacity="0.8"/>
<ellipse cx="80" cy="35" rx="40" ry="10" fill="#3ab845" opacity="0.8"/>
<ellipse cx="30" cy="70" rx="10" ry="30" fill="#30a03a" opacity="0.7"/>
</g>
<path d="M44.0,60.0 C47.7,55.7 60.7,56.3 70.0,56.0 C79.3,55.7 90.0,57.0 100.0,58.0 C110.0,59.0 120.0,60.7 130.0,62.0 C140.0,63.3 151.3,64.3 160.0,66.0 C168.7,67.7 177.7,69.0 182.0,72.0 C186.3,75.0 188.0,80.7 186.0,84.0 C184.0,87.3 177.7,90.7 170.0,92.0 C162.3,93.3 148.3,92.3 140.0,92.0 C131.7,91.7 126.7,90.3 120.0,90.0 C113.3,89.7 106.7,89.7 100.0,90.0 C93.3,90.3 86.3,92.3 80.0,92.0 C73.7,91.7 67.3,89.7 62.0,88.0 C56.7,86.3 51.0,86.7 48.0,82.0 C45.0,77.3 40.3,64.3 44.0,60.0Z" fill="#0a160b" opacity="0.8" filter="url(#blur3)"/>
<path d="M44.0,60.0 C47.7,55.7 60.7,56.3 70.0,56.0 C79.3,55.7 90.0,57.0 100.0,58.0 C110.0,59.0 120.0,60.7 130.0,62.0 C140.0,63.3 151.3,64.3 160.0,66.0 C168.7,67.7 177.7,69.0 182.0,72.0 C186.3,75.0 188.0,80.7 186.0,84.0 C184.0,87.3 177.7,90.7 170.0,92.0 C162.3,93.3 148.3,92.3 140.0,92.0 C131.7,91.7 126.7,90.3 120.0,90.0 C113.3,89.7 106.7,89.7 100.0,90.0 C93.3,90.3 86.3,92.3 80.0,92.0 C73.7,91.7 67.3,89.7 62.0,88.0 C56.7,86.3 51.0,86.7 48.0,82.0 C45.0,77.3 40.3,64.3 44.0,60.0Z" fill="#fff" filter="url(#speck2)" opacity="0.9"/>
<path d="M44.0,60.0 C47.7,55.7 60.7,56.3 70.0,56.0 C79.3,55.7 90.0,57.0 100.0,58.0 C110.0,59.0 120.0,60.7 130.0,62.0 C140.0,63.3 151.3,64.3 160.0,66.0 C168.7,67.7 177.7,69.0 182.0,72.0 C186.3,75.0 188.0,80.7 186.0,84.0 C184.0,87.3 177.7,90.7 170.0,92.0 C162.3,93.3 148.3,92.3 140.0,92.0 C131.7,91.7 126.7,90.3 120.0,90.0 C113.3,89.7 106.7,89.7 100.0,90.0 C93.3,90.3 86.3,92.3 80.0,92.0 C73.7,91.7 67.3,89.7 62.0,88.0 C56.7,86.3 51.0,86.7 48.0,82.0 C45.0,77.3 40.3,64.3 44.0,60.0Z" fill="#fff" filter="url(#speck)" opacity="0.6"/>
<path d="M50.0,44.0 C56.7,42.3 85.0,39.7 100.0,40.0 C115.0,40.3 129.2,43.0 140.0,46.0 C150.8,49.0 163.3,56.3 165.0,58.0 C166.7,59.7 160.8,57.7 150.0,56.0 C139.2,54.3 115.0,49.0 100.0,48.0 C85.0,47.0 68.3,50.7 60.0,50.0 C51.7,49.3 43.3,45.7 50.0,44.0Z" fill="#fff" filter="url(#speck)" opacity="0.6"/>
<ellipse cx="132" cy="88" rx="9" ry="5" fill="#000" opacity="0.7" filter="url(#blur3)"/>
<path d="M27.0,37.0 C29.8,32.2 34.2,31.2 42.0,29.0 C49.8,26.8 64.0,24.3 74.0,24.0 C84.0,23.7 92.7,25.0 102.0,27.0 C111.3,29.0 119.7,33.7 130.0,36.0 C140.3,38.3 154.3,39.2 164.0,41.0 C173.7,42.8 182.0,44.5 188.0,47.0 C194.0,49.5 197.2,52.7 200.0,56.0 C202.8,59.3 204.0,61.8 205.0,67.0 C206.0,72.2 206.3,81.2 206.0,87.0 C205.7,92.8 204.7,97.8 203.0,102.0 C201.3,106.2 199.2,108.3 196.0,112.0 C192.8,115.7 189.2,120.3 184.0,124.0 C178.8,127.7 172.3,131.7 165.0,134.0 C157.7,136.3 148.3,137.2 140.0,138.0 C131.7,138.8 122.5,139.0 115.0,139.0 C107.5,139.0 100.7,138.2 95.0,138.0 C89.3,137.8 87.7,139.0 81.0,137.5 C74.3,136.0 62.2,132.2 55.0,129.0 C47.8,125.8 42.5,122.8 38.0,118.0 C33.5,113.2 30.0,106.3 28.0,100.0 C26.0,93.7 26.4,87.0 26.0,80.0 C25.6,73.0 25.3,65.2 25.5,58.0 C25.7,50.8 24.2,41.8 27.0,37.0Z" fill="#000" filter="url(#mottle)" opacity="0.55"/>
<path d="M27.0,37.0 C29.8,32.2 34.2,31.2 42.0,29.0 C49.8,26.8 64.0,24.3 74.0,24.0 C84.0,23.7 92.7,25.0 102.0,27.0 C111.3,29.0 119.7,33.7 130.0,36.0 C140.3,38.3 154.3,39.2 164.0,41.0 C173.7,42.8 182.0,44.5 188.0,47.0 C194.0,49.5 197.2,52.7 200.0,56.0 C202.8,59.3 204.0,61.8 205.0,67.0 C206.0,72.2 206.3,81.2 206.0,87.0 C205.7,92.8 204.7,97.8 203.0,102.0 C201.3,106.2 199.2,108.3 196.0,112.0 C192.8,115.7 189.2,120.3 184.0,124.0 C178.8,127.7 172.3,131.7 165.0,134.0 C157.7,136.3 148.3,137.2 140.0,138.0 C131.7,138.8 122.5,139.0 115.0,139.0 C107.5,139.0 100.7,138.2 95.0,138.0 C89.3,137.8 87.7,139.0 81.0,137.5 C74.3,136.0 62.2,132.2 55.0,129.0 C47.8,125.8 42.5,122.8 38.0,118.0 C33.5,113.2 30.0,106.3 28.0,100.0 C26.0,93.7 26.4,87.0 26.0,80.0 C25.6,73.0 25.3,65.2 25.5,58.0 C25.7,50.8 24.2,41.8 27.0,37.0Z" fill="#000" filter="url(#glow)" opacity="0.4"/>
<path d="M42.0,49.0 C45.2,47.1 52.8,47.1 60.0,46.5 C67.2,45.9 76.7,45.8 85.0,45.5 C93.3,45.2 102.5,44.8 110.0,45.0 C117.5,45.2 123.7,45.8 130.0,47.0 C136.3,48.2 143.0,49.8 148.0,52.0 C153.0,54.2 157.7,57.8 160.0,60.0 C162.3,62.2 163.7,64.0 162.0,65.0 C160.3,66.0 155.3,66.2 150.0,66.0 C144.7,65.8 136.7,64.7 130.0,64.0 C123.3,63.3 116.3,62.0 110.0,62.0 C103.7,62.0 97.8,63.0 92.0,64.0 C86.2,65.0 79.3,66.0 75.0,68.0 C70.7,70.0 68.8,73.7 66.0,76.0 C63.2,78.3 61.3,81.0 58.0,82.0 C54.7,83.0 48.8,83.7 46.0,82.0 C43.2,80.3 41.8,76.0 41.0,72.0 C40.2,68.0 40.8,61.8 41.0,58.0 C41.2,54.2 38.8,50.9 42.0,49.0Z" fill="#000"/>
<path d="M42.0,49.0 C45.2,47.1 52.8,47.1 60.0,46.5 C67.2,45.9 76.7,45.8 85.0,45.5 C93.3,45.2 102.5,44.8 110.0,45.0 C117.5,45.2 123.7,45.8 130.0,47.0 C136.3,48.2 143.0,49.8 148.0,52.0 C153.0,54.2 157.7,57.8 160.0,60.0 C162.3,62.2 163.7,64.0 162.0,65.0 C160.3,66.0 155.3,66.2 150.0,66.0 C144.7,65.8 136.7,64.7 130.0,64.0 C123.3,63.3 116.3,62.0 110.0,62.0 C103.7,62.0 97.8,63.0 92.0,64.0 C86.2,65.0 79.3,66.0 75.0,68.0 C70.7,70.0 68.8,73.7 66.0,76.0 C63.2,78.3 61.3,81.0 58.0,82.0 C54.7,83.0 48.8,83.7 46.0,82.0 C43.2,80.3 41.8,76.0 41.0,72.0 C40.2,68.0 40.8,61.8 41.0,58.0 C41.2,54.2 38.8,50.9 42.0,49.0Z" fill="#fff" filter="url(#speck)" opacity="0.35"/>
<path d="M111,84 C112.5,82 116,82 117.5,85 L118,134 L111.5,134Z" fill="#000"/>
</g>
<path d="M27.0,37.0 C29.8,32.2 34.2,31.2 42.0,29.0 C49.8,26.8 64.0,24.3 74.0,24.0 C84.0,23.7 92.7,25.0 102.0,27.0 C111.3,29.0 119.7,33.7 130.0,36.0 C140.3,38.3 154.3,39.2 164.0,41.0 C173.7,42.8 182.0,44.5 188.0,47.0 C194.0,49.5 197.2,52.7 200.0,56.0 C202.8,59.3 204.0,61.8 205.0,67.0 C206.0,72.2 206.3,81.2 206.0,87.0 C205.7,92.8 204.7,97.8 203.0,102.0 C201.3,106.2 199.2,108.3 196.0,112.0 C192.8,115.7 189.2,120.3 184.0,124.0 C178.8,127.7 172.3,131.7 165.0,134.0 C157.7,136.3 148.3,137.2 140.0,138.0 C131.7,138.8 122.5,139.0 115.0,139.0 C107.5,139.0 100.7,138.2 95.0,138.0 C89.3,137.8 87.7,139.0 81.0,137.5 C74.3,136.0 62.2,132.2 55.0,129.0 C47.8,125.8 42.5,122.8 38.0,118.0 C33.5,113.2 30.0,106.3 28.0,100.0 C26.0,93.7 26.4,87.0 26.0,80.0 C25.6,73.0 25.3,65.2 25.5,58.0 C25.7,50.8 24.2,41.8 27.0,37.0Z" fill="none" stroke="#ccc" stroke-width="0.9" stroke-dasharray="1.3 1.3" opacity="0.75"/>
<text x="4.7" y="7.2" font-size="6.7" font-weight="bold" fill="#ede028" textLength="33.5" lengthAdjust="spacingAndGlyphs">170 kDyn</text>
<text x="173.7" y="12.6" font-size="7.4" font-weight="bold" fill="#20ad52" textLength="46" lengthAdjust="spacingAndGlyphs">FluoroMyelin</text>
<text x="219.7" y="20.9" font-size="7.4" font-weight="bold" fill="#e02424" text-anchor="end">AF</text>
<text x="202" y="29.8" font-size="7.4" font-weight="bold" fill="#fff" textLength="17.7" lengthAdjust="spacingAndGlyphs">DAPI</text>
</g></g>
</svg></body></html>
